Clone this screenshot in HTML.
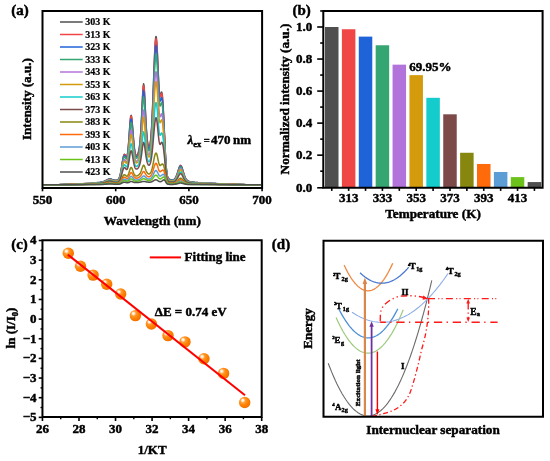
<!DOCTYPE html>
<html><head><meta charset="utf-8"><title>Figure</title>
<style>html,body{margin:0;padding:0;background:#fff;}body{width:550px;height:461px;overflow:hidden;}svg{display:block;filter:blur(0.3px);}text{stroke:#000;stroke-width:0.45px;}</style>
</head><body>
<svg width="550" height="461" viewBox="0 0 550 461"><path d="M43.5,184.8 L46.5,184.8 L49.5,184.8 L52.5,184.8 L55.5,184.7 L58.5,184.7 L61.5,184.6 L64.5,184.5 L67.5,184.4 L70.5,184.3 L73.5,184.2 L76.5,184.1 L79.5,184.0 L82.5,183.8 L85.5,183.6 L88.5,183.4 L91.5,183.2 L94.5,182.9 L97.5,182.6 L100.0,182.4 L101.0,182.2 L102.0,182.0 L103.0,181.7 L104.0,181.4 L105.0,181.0 L106.0,180.5 L107.0,179.9 L108.0,179.4 L109.0,179.0 L110.0,178.9 L111.0,179.1 L112.0,179.5 L113.0,179.8 L114.0,180.1 L115.0,180.3 L116.0,180.3 L117.0,180.2 L118.0,179.7 L118.4,179.3 L118.8,178.7 L119.2,177.9 L119.6,176.9 L120.0,175.6 L120.4,174.0 L120.8,172.0 L121.2,169.8 L121.6,167.3 L122.0,164.6 L122.4,162.0 L122.8,159.6 L123.2,157.5 L123.6,155.8 L124.0,154.8 L124.4,154.3 L124.8,154.4 L125.2,154.9 L125.6,155.6 L126.0,156.3 L126.4,156.6 L126.8,156.3 L127.2,155.2 L127.6,153.2 L128.0,150.0 L128.4,145.7 L128.8,140.6 L129.2,134.8 L129.6,128.9 L130.0,123.3 L130.4,118.7 L130.8,115.9 L131.2,115.3 L131.6,116.8 L132.0,120.2 L132.4,124.8 L132.8,130.0 L133.2,135.3 L133.6,140.3 L134.0,144.6 L134.4,148.2 L134.8,151.1 L135.2,153.1 L135.6,154.5 L136.0,155.3 L136.4,155.6 L136.8,155.5 L137.2,155.1 L137.6,154.4 L138.0,153.5 L138.4,152.2 L138.8,150.6 L139.2,148.4 L139.6,145.6 L140.0,142.0 L140.4,137.3 L140.8,131.6 L141.2,124.7 L141.6,116.9 L142.0,108.3 L142.4,99.6 L142.8,91.8 L143.2,86.1 L143.6,83.8 L144.0,85.5 L144.4,90.7 L144.8,98.1 L145.2,106.6 L145.6,115.0 L146.0,122.7 L146.4,129.4 L146.8,134.9 L147.2,139.3 L147.6,142.6 L148.0,145.0 L148.4,146.4 L148.8,147.1 L149.2,147.1 L149.6,146.3 L150.0,144.6 L150.4,142.1 L150.8,138.5 L151.2,133.7 L151.6,127.7 L152.0,120.4 L152.4,111.8 L152.8,102.1 L153.2,91.6 L153.6,80.6 L154.0,69.6 L154.4,59.3 L154.8,50.1 L155.2,42.9 L155.6,38.2 L156.0,36.5 L156.4,37.8 L156.8,42.2 L157.2,49.0 L157.6,57.6 L158.0,66.9 L158.4,76.1 L158.8,84.2 L159.2,90.4 L159.6,94.3 L160.0,95.9 L160.4,95.5 L160.8,94.1 L161.2,92.6 L161.6,92.0 L162.0,93.0 L162.4,96.1 L162.8,101.0 L163.2,107.6 L163.6,115.3 L164.0,123.7 L164.4,132.6 L164.8,141.5 L165.2,149.9 L165.6,157.6 L166.0,164.0 L166.4,169.1 L166.8,172.8 L167.2,175.4 L167.6,177.0 L168.0,178.0 L168.4,178.6 L168.8,179.0 L169.2,179.2 L169.6,179.4 L170.0,179.6 L170.4,179.7 L170.8,179.8 L171.2,179.9 L171.6,179.9 L172.0,179.9 L172.4,179.9 L172.8,179.9 L173.2,179.8 L173.6,179.6 L174.0,179.4 L174.4,179.1 L174.8,178.7 L175.2,178.2 L175.6,177.5 L176.0,176.8 L176.4,175.9 L176.8,174.9 L177.2,173.8 L177.6,172.6 L178.0,171.3 L178.4,170.0 L178.8,168.7 L179.2,167.5 L179.6,166.5 L180.0,165.8 L180.4,165.4 L180.8,165.4 L181.2,165.9 L181.6,166.6 L182.0,167.7 L182.4,168.9 L182.8,170.3 L183.2,171.7 L183.6,173.0 L184.0,174.3 L184.4,175.5 L184.8,176.5 L185.2,177.5 L185.6,178.3 L186.0,179.0 L186.4,179.6 L186.8,180.0 L187.2,180.4 L187.6,180.8 L188.0,181.0 L188.4,181.2 L188.8,181.4 L189.2,181.5 L189.6,181.7 L190.0,181.8 L190.4,181.8 L190.8,181.9 L191.2,182.0 L191.6,182.0 L192.0,182.1 L195.0,182.4 L198.0,182.6 L201.0,182.7 L204.0,182.8 L207.0,183.0 L210.0,183.2 L213.0,183.4 L216.0,183.6 L219.0,183.7 L222.0,183.9 L225.0,184.0 L228.0,184.1 L231.0,184.2 L234.0,184.3 L237.0,184.4 L240.0,184.5 L243.0,184.6 L246.0,184.7 L249.0,184.7 L252.0,184.8 L255.0,184.8 L258.0,184.8 L261.0,184.8 L261.0,184.8" fill="none" stroke="#4f4f4f" stroke-width="1.5" stroke-linejoin="round"/>
<path d="M43.5,184.8 L46.5,184.8 L49.5,184.8 L52.5,184.8 L55.5,184.7 L58.5,184.7 L61.5,184.6 L64.5,184.5 L67.5,184.4 L70.5,184.3 L73.5,184.2 L76.5,184.1 L79.5,184.0 L82.5,183.8 L85.5,183.6 L88.5,183.4 L91.5,183.2 L94.5,182.9 L97.5,182.7 L100.0,182.4 L101.0,182.2 L102.0,182.0 L103.0,181.8 L104.0,181.4 L105.0,181.0 L106.0,180.5 L107.0,180.0 L108.0,179.4 L109.0,179.0 L110.0,178.9 L111.0,179.1 L112.0,179.5 L113.0,179.9 L114.0,180.2 L115.0,180.4 L116.0,180.4 L117.0,180.2 L118.0,179.7 L118.4,179.3 L118.8,178.8 L119.2,178.0 L119.6,177.0 L120.0,175.7 L120.4,174.1 L120.8,172.2 L121.2,169.9 L121.6,167.4 L122.0,164.8 L122.4,162.2 L122.8,159.8 L123.2,157.7 L123.6,156.1 L124.0,155.1 L124.4,154.6 L124.8,154.7 L125.2,155.2 L125.6,155.9 L126.0,156.6 L126.4,156.9 L126.8,156.7 L127.2,155.6 L127.6,153.5 L128.0,150.4 L128.4,146.2 L128.8,141.1 L129.2,135.4 L129.6,129.6 L130.0,124.1 L130.4,119.6 L130.8,116.8 L131.2,116.1 L131.6,117.7 L132.0,121.0 L132.4,125.6 L132.8,130.7 L133.2,135.9 L133.6,140.8 L134.0,145.1 L134.4,148.7 L134.8,151.5 L135.2,153.5 L135.6,154.8 L136.0,155.6 L136.4,155.9 L136.8,155.8 L137.2,155.4 L137.6,154.8 L138.0,153.8 L138.4,152.6 L138.8,151.0 L139.2,148.8 L139.6,146.1 L140.0,142.5 L140.4,138.0 L140.8,132.3 L141.2,125.6 L141.6,117.9 L142.0,109.4 L142.4,100.9 L142.8,93.2 L143.2,87.7 L143.6,85.4 L144.0,87.1 L144.4,92.2 L144.8,99.5 L145.2,107.7 L145.6,116.0 L146.0,123.6 L146.4,130.2 L146.8,135.6 L147.2,139.9 L147.6,143.2 L148.0,145.4 L148.4,146.9 L148.8,147.6 L149.2,147.5 L149.6,146.7 L150.0,145.1 L150.4,142.6 L150.8,139.0 L151.2,134.3 L151.6,128.4 L152.0,121.2 L152.4,112.8 L152.8,103.2 L153.2,92.9 L153.6,82.1 L154.0,71.3 L154.4,61.0 L154.8,52.0 L155.2,44.9 L155.6,40.3 L156.0,38.6 L156.4,39.9 L156.8,44.2 L157.2,50.9 L157.6,59.4 L158.0,68.6 L158.4,77.6 L158.8,85.6 L159.2,91.7 L159.6,95.6 L160.0,97.1 L160.4,96.8 L160.8,95.4 L161.2,93.9 L161.6,93.3 L162.0,94.3 L162.4,97.3 L162.8,102.1 L163.2,108.6 L163.6,116.1 L164.0,124.5 L164.4,133.2 L164.8,141.9 L165.2,150.3 L165.6,157.8 L166.0,164.2 L166.4,169.3 L166.8,172.9 L167.2,175.5 L167.6,177.1 L168.0,178.1 L168.4,178.7 L168.8,179.1 L169.2,179.3 L169.6,179.5 L170.0,179.6 L170.4,179.8 L170.8,179.8 L171.2,179.9 L171.6,180.0 L172.0,180.0 L172.4,180.0 L172.8,179.9 L173.2,179.8 L173.6,179.7 L174.0,179.4 L174.4,179.1 L174.8,178.7 L175.2,178.2 L175.6,177.6 L176.0,176.9 L176.4,176.0 L176.8,175.0 L177.2,173.9 L177.6,172.7 L178.0,171.4 L178.4,170.1 L178.8,168.8 L179.2,167.7 L179.6,166.7 L180.0,166.0 L180.4,165.6 L180.8,165.6 L181.2,166.0 L181.6,166.8 L182.0,167.9 L182.4,169.1 L182.8,170.4 L183.2,171.8 L183.6,173.1 L184.0,174.4 L184.4,175.6 L184.8,176.6 L185.2,177.5 L185.6,178.3 L186.0,179.0 L186.4,179.6 L186.8,180.1 L187.2,180.5 L187.6,180.8 L188.0,181.1 L188.4,181.3 L188.8,181.4 L189.2,181.6 L189.6,181.7 L190.0,181.8 L190.4,181.9 L190.8,181.9 L191.2,182.0 L191.6,182.1 L192.0,182.1 L195.0,182.4 L198.0,182.6 L201.0,182.7 L204.0,182.8 L207.0,183.0 L210.0,183.2 L213.0,183.4 L216.0,183.6 L219.0,183.7 L222.0,183.9 L225.0,184.0 L228.0,184.1 L231.0,184.2 L234.0,184.3 L237.0,184.4 L240.0,184.5 L243.0,184.6 L246.0,184.7 L249.0,184.7 L252.0,184.8 L255.0,184.8 L258.0,184.8 L261.0,184.8 L261.0,184.8" fill="none" stroke="#f04646" stroke-width="1.5" stroke-linejoin="round"/>
<path d="M43.5,184.8 L46.5,184.8 L49.5,184.8 L52.5,184.8 L55.5,184.7 L58.5,184.7 L61.5,184.6 L64.5,184.5 L67.5,184.5 L70.5,184.4 L73.5,184.3 L76.5,184.1 L79.5,184.0 L82.5,183.9 L85.5,183.7 L88.5,183.5 L91.5,183.3 L94.5,183.0 L97.5,182.7 L100.0,182.5 L101.0,182.3 L102.0,182.1 L103.0,181.9 L104.0,181.5 L105.0,181.1 L106.0,180.7 L107.0,180.1 L108.0,179.6 L109.0,179.2 L110.0,179.1 L111.0,179.3 L112.0,179.7 L113.0,180.0 L114.0,180.3 L115.0,180.5 L116.0,180.5 L117.0,180.4 L118.0,179.9 L118.4,179.5 L118.8,179.0 L119.2,178.3 L119.6,177.3 L120.0,176.0 L120.4,174.5 L120.8,172.6 L121.2,170.4 L121.6,168.0 L122.0,165.5 L122.4,163.0 L122.8,160.7 L123.2,158.6 L123.6,157.1 L124.0,156.1 L124.4,155.6 L124.8,155.7 L125.2,156.2 L125.6,156.9 L126.0,157.6 L126.4,157.9 L126.8,157.7 L127.2,156.7 L127.6,154.8 L128.0,151.8 L128.4,147.8 L128.8,143.0 L129.2,137.5 L129.6,131.9 L130.0,126.6 L130.4,122.4 L130.8,119.7 L131.2,119.1 L131.6,120.5 L132.0,123.7 L132.4,128.1 L132.8,133.0 L133.2,138.0 L133.6,142.6 L134.0,146.7 L134.4,150.1 L134.8,152.8 L135.2,154.7 L135.6,156.0 L136.0,156.7 L136.4,157.0 L136.8,156.9 L137.2,156.6 L137.6,155.9 L138.0,155.0 L138.4,153.8 L138.8,152.3 L139.2,150.3 L139.6,147.7 L140.0,144.3 L140.4,140.1 L140.8,134.8 L141.2,128.4 L141.6,121.1 L142.0,113.2 L142.4,105.2 L142.8,98.0 L143.2,92.7 L143.6,90.6 L144.0,92.2 L144.4,96.9 L144.8,103.8 L145.2,111.6 L145.6,119.4 L146.0,126.5 L146.4,132.7 L146.8,137.8 L147.2,141.9 L147.6,144.9 L148.0,147.1 L148.4,148.4 L148.8,149.0 L149.2,149.0 L149.6,148.2 L150.0,146.7 L150.4,144.3 L150.8,140.9 L151.2,136.5 L151.6,130.8 L152.0,124.0 L152.4,116.0 L152.8,106.9 L153.2,97.1 L153.6,86.8 L154.0,76.5 L154.4,66.8 L154.8,58.3 L155.2,51.5 L155.6,47.1 L156.0,45.5 L156.4,46.8 L156.8,50.9 L157.2,57.3 L157.6,65.3 L158.0,74.1 L158.4,82.7 L158.8,90.3 L159.2,96.1 L159.6,99.8 L160.0,101.3 L160.4,100.9 L160.8,99.6 L161.2,98.1 L161.6,97.5 L162.0,98.5 L162.4,101.2 L162.8,105.8 L163.2,111.8 L163.6,119.0 L164.0,126.8 L164.4,135.1 L164.8,143.5 L165.2,151.5 L165.6,158.7 L166.0,164.9 L166.4,169.8 L166.8,173.4 L167.2,175.8 L167.6,177.4 L168.0,178.3 L168.4,178.9 L168.8,179.3 L169.2,179.5 L169.6,179.7 L170.0,179.8 L170.4,179.9 L170.8,180.0 L171.2,180.1 L171.6,180.1 L172.0,180.2 L172.4,180.1 L172.8,180.1 L173.2,180.0 L173.6,179.8 L174.0,179.6 L174.4,179.3 L174.8,178.9 L175.2,178.5 L175.6,177.9 L176.0,177.1 L176.4,176.3 L176.8,175.3 L177.2,174.3 L177.6,173.1 L178.0,171.9 L178.4,170.6 L178.8,169.4 L179.2,168.2 L179.6,167.3 L180.0,166.6 L180.4,166.2 L180.8,166.3 L181.2,166.7 L181.6,167.4 L182.0,168.4 L182.4,169.6 L182.8,170.9 L183.2,172.2 L183.6,173.5 L184.0,174.7 L184.4,175.9 L184.8,176.9 L185.2,177.8 L185.6,178.6 L186.0,179.2 L186.4,179.8 L186.8,180.2 L187.2,180.6 L187.6,180.9 L188.0,181.2 L188.4,181.4 L188.8,181.5 L189.2,181.7 L189.6,181.8 L190.0,181.9 L190.4,182.0 L190.8,182.0 L191.2,182.1 L191.6,182.2 L192.0,182.2 L195.0,182.5 L198.0,182.7 L201.0,182.8 L204.0,182.9 L207.0,183.1 L210.0,183.3 L213.0,183.5 L216.0,183.6 L219.0,183.8 L222.0,183.9 L225.0,184.0 L228.0,184.2 L231.0,184.3 L234.0,184.4 L237.0,184.5 L240.0,184.5 L243.0,184.6 L246.0,184.7 L249.0,184.7 L252.0,184.8 L255.0,184.8 L258.0,184.8 L261.0,184.8 L261.0,184.8" fill="none" stroke="#1f63d8" stroke-width="1.5" stroke-linejoin="round"/>
<path d="M43.5,184.8 L46.5,184.8 L49.5,184.8 L52.5,184.8 L55.5,184.7 L58.5,184.7 L61.5,184.6 L64.5,184.5 L67.5,184.5 L70.5,184.4 L73.5,184.3 L76.5,184.2 L79.5,184.0 L82.5,183.9 L85.5,183.7 L88.5,183.5 L91.5,183.3 L94.5,183.1 L97.5,182.8 L100.0,182.5 L101.0,182.4 L102.0,182.2 L103.0,182.0 L104.0,181.7 L105.0,181.3 L106.0,180.8 L107.0,180.3 L108.0,179.8 L109.0,179.4 L110.0,179.3 L111.0,179.5 L112.0,179.8 L113.0,180.2 L114.0,180.5 L115.0,180.7 L116.0,180.7 L117.0,180.6 L118.0,180.1 L118.4,179.7 L118.8,179.2 L119.2,178.5 L119.6,177.6 L120.0,176.4 L120.4,174.9 L120.8,173.1 L121.2,171.0 L121.6,168.7 L122.0,166.3 L122.4,163.9 L122.8,161.7 L123.2,159.7 L123.6,158.3 L124.0,157.3 L124.4,156.9 L124.8,157.0 L125.2,157.5 L125.6,158.1 L126.0,158.8 L126.4,159.1 L126.8,159.0 L127.2,158.0 L127.6,156.2 L128.0,153.4 L128.4,149.7 L128.8,145.1 L129.2,140.0 L129.6,134.7 L130.0,129.7 L130.4,125.6 L130.8,123.1 L131.2,122.5 L131.6,123.9 L132.0,126.9 L132.4,131.0 L132.8,135.6 L133.2,140.3 L133.6,144.7 L134.0,148.6 L134.4,151.8 L134.8,154.3 L135.2,156.1 L135.6,157.3 L136.0,158.0 L136.4,158.3 L136.8,158.2 L137.2,157.9 L137.6,157.3 L138.0,156.4 L138.4,155.3 L138.8,153.9 L139.2,152.0 L139.6,149.6 L140.0,146.5 L140.4,142.5 L140.8,137.6 L141.2,131.7 L141.6,125.0 L142.0,117.6 L142.4,110.2 L142.8,103.5 L143.2,98.6 L143.6,96.7 L144.0,98.1 L144.4,102.5 L144.8,108.9 L145.2,116.1 L145.6,123.3 L146.0,129.9 L146.4,135.6 L146.8,140.4 L147.2,144.1 L147.6,147.0 L148.0,148.9 L148.4,150.2 L148.8,150.8 L149.2,150.7 L149.6,150.0 L150.0,148.6 L150.4,146.3 L150.8,143.2 L151.2,139.0 L151.6,133.7 L152.0,127.3 L152.4,119.7 L152.8,111.2 L153.2,102.0 L153.6,92.3 L154.0,82.7 L154.4,73.6 L154.8,65.6 L155.2,59.2 L155.6,55.1 L156.0,53.6 L156.4,54.8 L156.8,58.7 L157.2,64.7 L157.6,72.2 L158.0,80.5 L158.4,88.6 L158.8,95.7 L159.2,101.2 L159.6,104.7 L160.0,106.1 L160.4,105.8 L160.8,104.5 L161.2,103.1 L161.6,102.5 L162.0,103.4 L162.4,105.9 L162.8,110.1 L163.2,115.7 L163.6,122.3 L164.0,129.6 L164.4,137.4 L164.8,145.3 L165.2,152.9 L165.6,159.8 L166.0,165.7 L166.4,170.4 L166.8,173.8 L167.2,176.2 L167.6,177.7 L168.0,178.6 L168.4,179.2 L168.8,179.5 L169.2,179.8 L169.6,179.9 L170.0,180.1 L170.4,180.2 L170.8,180.2 L171.2,180.3 L171.6,180.3 L172.0,180.4 L172.4,180.3 L172.8,180.3 L173.2,180.2 L173.6,180.1 L174.0,179.8 L174.4,179.6 L174.8,179.2 L175.2,178.7 L175.6,178.2 L176.0,177.5 L176.4,176.7 L176.8,175.7 L177.2,174.7 L177.6,173.6 L178.0,172.4 L178.4,171.2 L178.8,170.0 L179.2,168.9 L179.6,168.0 L180.0,167.3 L180.4,167.0 L180.8,167.0 L181.2,167.4 L181.6,168.1 L182.0,169.1 L182.4,170.2 L182.8,171.5 L183.2,172.7 L183.6,174.0 L184.0,175.1 L184.4,176.2 L184.8,177.2 L185.2,178.1 L185.6,178.8 L186.0,179.5 L186.4,180.0 L186.8,180.4 L187.2,180.8 L187.6,181.1 L188.0,181.3 L188.4,181.5 L188.8,181.7 L189.2,181.8 L189.6,181.9 L190.0,182.0 L190.4,182.1 L190.8,182.2 L191.2,182.2 L191.6,182.3 L192.0,182.3 L195.0,182.6 L198.0,182.8 L201.0,182.9 L204.0,183.0 L207.0,183.2 L210.0,183.3 L213.0,183.5 L216.0,183.7 L219.0,183.8 L222.0,183.9 L225.0,184.1 L228.0,184.2 L231.0,184.3 L234.0,184.4 L237.0,184.5 L240.0,184.5 L243.0,184.6 L246.0,184.7 L249.0,184.7 L252.0,184.8 L255.0,184.8 L258.0,184.8 L261.0,184.8 L261.0,184.8" fill="none" stroke="#35a572" stroke-width="1.5" stroke-linejoin="round"/>
<path d="M43.5,184.8 L46.5,184.8 L49.5,184.8 L52.5,184.8 L55.5,184.7 L58.5,184.7 L61.5,184.6 L64.5,184.6 L67.5,184.5 L70.5,184.4 L73.5,184.3 L76.5,184.2 L79.5,184.1 L82.5,184.0 L85.5,183.8 L88.5,183.7 L91.5,183.5 L94.5,183.2 L97.5,183.0 L100.0,182.8 L101.0,182.6 L102.0,182.4 L103.0,182.2 L104.0,181.9 L105.0,181.6 L106.0,181.2 L107.0,180.7 L108.0,180.2 L109.0,179.8 L110.0,179.8 L111.0,179.9 L112.0,180.3 L113.0,180.6 L114.0,180.9 L115.0,181.1 L116.0,181.1 L117.0,181.0 L118.0,180.6 L118.4,180.3 L118.8,179.8 L119.2,179.2 L119.6,178.3 L120.0,177.3 L120.4,175.9 L120.8,174.3 L121.2,172.4 L121.6,170.4 L122.0,168.2 L122.4,166.0 L122.8,164.0 L123.2,162.3 L123.6,160.9 L124.0,160.1 L124.4,159.7 L124.8,159.8 L125.2,160.3 L125.6,160.9 L126.0,161.5 L126.4,161.9 L126.8,161.8 L127.2,161.1 L127.6,159.5 L128.0,157.1 L128.4,153.9 L128.8,149.9 L129.2,145.5 L129.6,140.9 L130.0,136.6 L130.4,133.1 L130.8,130.9 L131.2,130.3 L131.6,131.5 L132.0,134.1 L132.4,137.7 L132.8,141.7 L133.2,145.7 L133.6,149.5 L134.0,152.9 L134.4,155.6 L134.8,157.8 L135.2,159.4 L135.6,160.4 L136.0,161.0 L136.4,161.2 L136.8,161.2 L137.2,160.9 L137.6,160.3 L138.0,159.6 L138.4,158.7 L138.8,157.5 L139.2,155.9 L139.6,153.9 L140.0,151.3 L140.4,148.0 L140.8,143.9 L141.2,139.0 L141.6,133.4 L142.0,127.3 L142.4,121.2 L142.8,115.6 L143.2,111.6 L143.6,110.0 L144.0,111.2 L144.4,114.8 L144.8,120.1 L145.2,126.0 L145.6,132.0 L146.0,137.4 L146.4,142.2 L146.8,146.1 L147.2,149.2 L147.6,151.6 L148.0,153.2 L148.4,154.3 L148.8,154.7 L149.2,154.7 L149.6,154.1 L150.0,152.8 L150.4,150.9 L150.8,148.2 L151.2,144.6 L151.6,140.1 L152.0,134.6 L152.4,128.2 L152.8,120.9 L153.2,113.0 L153.6,104.8 L154.0,96.5 L154.4,88.7 L154.8,81.9 L155.2,76.5 L155.6,72.9 L156.0,71.7 L156.4,72.8 L156.8,76.1 L157.2,81.3 L157.6,87.8 L158.0,94.9 L158.4,101.8 L158.8,108.0 L159.2,112.7 L159.6,115.7 L160.0,116.9 L160.4,116.7 L160.8,115.5 L161.2,114.3 L161.6,113.8 L162.0,114.3 L162.4,116.3 L162.8,119.7 L163.2,124.3 L163.6,129.8 L164.0,135.9 L164.4,142.6 L164.8,149.4 L165.2,156.1 L165.6,162.3 L166.0,167.6 L166.4,171.8 L166.8,174.9 L167.2,177.1 L167.6,178.4 L168.0,179.3 L168.4,179.8 L168.8,180.1 L169.2,180.3 L169.6,180.5 L170.0,180.6 L170.4,180.7 L170.8,180.7 L171.2,180.8 L171.6,180.8 L172.0,180.8 L172.4,180.8 L172.8,180.8 L173.2,180.7 L173.6,180.5 L174.0,180.4 L174.4,180.1 L174.8,179.8 L175.2,179.3 L175.6,178.8 L176.0,178.2 L176.4,177.5 L176.8,176.7 L177.2,175.7 L177.6,174.7 L178.0,173.6 L178.4,172.5 L178.8,171.5 L179.2,170.5 L179.6,169.7 L180.0,169.1 L180.4,168.8 L180.8,168.8 L181.2,169.1 L181.6,169.8 L182.0,170.6 L182.4,171.7 L182.8,172.8 L183.2,173.9 L183.6,175.0 L184.0,176.1 L184.4,177.1 L184.8,178.0 L185.2,178.7 L185.6,179.4 L186.0,180.0 L186.4,180.5 L186.8,180.9 L187.2,181.2 L187.6,181.5 L188.0,181.7 L188.4,181.9 L188.8,182.0 L189.2,182.1 L189.6,182.2 L190.0,182.3 L190.4,182.4 L190.8,182.4 L191.2,182.5 L191.6,182.5 L192.0,182.6 L195.0,182.8 L198.0,183.0 L201.0,183.1 L204.0,183.2 L207.0,183.3 L210.0,183.5 L213.0,183.6 L216.0,183.8 L219.0,183.9 L222.0,184.0 L225.0,184.1 L228.0,184.2 L231.0,184.3 L234.0,184.4 L237.0,184.5 L240.0,184.6 L243.0,184.6 L246.0,184.7 L249.0,184.7 L252.0,184.8 L255.0,184.8 L258.0,184.8 L261.0,184.8 L261.0,184.8" fill="none" stroke="#b274db" stroke-width="1.5" stroke-linejoin="round"/>
<path d="M43.5,184.8 L46.5,184.8 L49.5,184.8 L52.5,184.8 L55.5,184.7 L58.5,184.7 L61.5,184.6 L64.5,184.6 L67.5,184.5 L70.5,184.4 L73.5,184.3 L76.5,184.3 L79.5,184.1 L82.5,184.0 L85.5,183.9 L88.5,183.7 L91.5,183.5 L94.5,183.3 L97.5,183.1 L100.0,182.9 L101.0,182.7 L102.0,182.6 L103.0,182.4 L104.0,182.1 L105.0,181.8 L106.0,181.4 L107.0,180.9 L108.0,180.4 L109.0,180.1 L110.0,180.0 L111.0,180.2 L112.0,180.5 L113.0,180.8 L114.0,181.1 L115.0,181.3 L116.0,181.3 L117.0,181.2 L118.0,180.8 L118.4,180.5 L118.8,180.1 L119.2,179.5 L119.6,178.7 L120.0,177.7 L120.4,176.5 L120.8,174.9 L121.2,173.2 L121.6,171.3 L122.0,169.2 L122.4,167.2 L122.8,165.3 L123.2,163.7 L123.6,162.4 L124.0,161.6 L124.4,161.3 L124.8,161.4 L125.2,161.8 L125.6,162.4 L126.0,163.0 L126.4,163.4 L126.8,163.4 L127.2,162.7 L127.6,161.3 L128.0,159.2 L128.4,156.2 L128.8,152.6 L129.2,148.5 L129.6,144.3 L130.0,140.3 L130.4,137.1 L130.8,135.1 L131.2,134.6 L131.6,135.7 L132.0,138.0 L132.4,141.3 L132.8,145.0 L133.2,148.7 L133.6,152.2 L134.0,155.2 L134.4,157.7 L134.8,159.7 L135.2,161.2 L135.6,162.1 L136.0,162.6 L136.4,162.9 L136.8,162.8 L137.2,162.5 L137.6,162.0 L138.0,161.4 L138.4,160.5 L138.8,159.4 L139.2,158.0 L139.6,156.2 L140.0,153.9 L140.4,150.9 L140.8,147.3 L141.2,142.9 L141.6,137.9 L142.0,132.5 L142.4,127.0 L142.8,122.1 L143.2,118.5 L143.6,117.0 L144.0,118.1 L144.4,121.3 L144.8,126.0 L145.2,131.3 L145.6,136.6 L146.0,141.5 L146.4,145.7 L146.8,149.2 L147.2,152.0 L147.6,154.1 L148.0,155.5 L148.4,156.5 L148.8,156.9 L149.2,156.9 L149.6,156.3 L150.0,155.2 L150.4,153.4 L150.8,151.0 L151.2,147.7 L151.6,143.6 L152.0,138.6 L152.4,132.8 L152.8,126.2 L153.2,119.0 L153.6,111.5 L154.0,104.0 L154.4,96.9 L154.8,90.7 L155.2,85.8 L155.6,82.6 L156.0,81.4 L156.4,82.4 L156.8,85.5 L157.2,90.2 L157.6,96.1 L158.0,102.6 L158.4,109.0 L158.8,114.6 L159.2,118.9 L159.6,121.6 L160.0,122.7 L160.4,122.5 L160.8,121.5 L161.2,120.4 L161.6,119.8 L162.0,120.3 L162.4,122.0 L162.8,125.0 L163.2,129.0 L163.6,133.9 L164.0,139.4 L164.4,145.4 L164.8,151.7 L165.2,157.9 L165.6,163.7 L166.0,168.6 L166.4,172.6 L166.8,175.5 L167.2,177.5 L167.6,178.8 L168.0,179.6 L168.4,180.1 L168.8,180.4 L169.2,180.6 L169.6,180.7 L170.0,180.9 L170.4,180.9 L170.8,181.0 L171.2,181.1 L171.6,181.1 L172.0,181.1 L172.4,181.1 L172.8,181.0 L173.2,181.0 L173.6,180.8 L174.0,180.6 L174.4,180.4 L174.8,180.1 L175.2,179.7 L175.6,179.2 L176.0,178.6 L176.4,177.9 L176.8,177.2 L177.2,176.3 L177.6,175.3 L178.0,174.3 L178.4,173.3 L178.8,172.3 L179.2,171.4 L179.6,170.6 L180.0,170.0 L180.4,169.7 L180.8,169.8 L181.2,170.1 L181.6,170.7 L182.0,171.5 L182.4,172.5 L182.8,173.5 L183.2,174.6 L183.6,175.6 L184.0,176.6 L184.4,177.6 L184.8,178.4 L185.2,179.1 L185.6,179.7 L186.0,180.3 L186.4,180.7 L186.8,181.1 L187.2,181.4 L187.6,181.7 L188.0,181.9 L188.4,182.0 L188.8,182.2 L189.2,182.3 L189.6,182.4 L190.0,182.4 L190.4,182.5 L190.8,182.6 L191.2,182.6 L191.6,182.7 L192.0,182.7 L195.0,182.9 L198.0,183.1 L201.0,183.2 L204.0,183.3 L207.0,183.4 L210.0,183.6 L213.0,183.7 L216.0,183.8 L219.0,184.0 L222.0,184.1 L225.0,184.2 L228.0,184.3 L231.0,184.4 L234.0,184.4 L237.0,184.5 L240.0,184.6 L243.0,184.6 L246.0,184.7 L249.0,184.7 L252.0,184.8 L255.0,184.8 L258.0,184.8 L261.0,184.8 L261.0,184.8" fill="none" stroke="#d49b0c" stroke-width="1.5" stroke-linejoin="round"/>
<path d="M43.5,184.8 L46.5,184.8 L49.5,184.8 L52.5,184.8 L55.5,184.7 L58.5,184.7 L61.5,184.7 L64.5,184.6 L67.5,184.5 L70.5,184.5 L73.5,184.4 L76.5,184.3 L79.5,184.2 L82.5,184.1 L85.5,184.0 L88.5,183.9 L91.5,183.7 L94.5,183.5 L97.5,183.3 L100.0,183.1 L101.0,183.0 L102.0,182.9 L103.0,182.7 L104.0,182.5 L105.0,182.2 L106.0,181.8 L107.0,181.4 L108.0,181.0 L109.0,180.7 L110.0,180.6 L111.0,180.8 L112.0,181.1 L113.0,181.4 L114.0,181.6 L115.0,181.8 L116.0,181.8 L117.0,181.8 L118.0,181.4 L118.4,181.2 L118.8,180.8 L119.2,180.3 L119.6,179.7 L120.0,178.8 L120.4,177.7 L120.8,176.4 L121.2,174.9 L121.6,173.3 L122.0,171.6 L122.4,169.8 L122.8,168.2 L123.2,166.8 L123.6,165.8 L124.0,165.1 L124.4,164.8 L124.8,164.9 L125.2,165.3 L125.6,165.9 L126.0,166.4 L126.4,166.8 L126.8,166.9 L127.2,166.4 L127.6,165.4 L128.0,163.6 L128.4,161.3 L128.8,158.4 L129.2,155.1 L129.6,151.7 L130.0,148.5 L130.4,145.9 L130.8,144.3 L131.2,143.9 L131.6,144.7 L132.0,146.6 L132.4,149.2 L132.8,152.2 L133.2,155.1 L133.6,157.9 L134.0,160.4 L134.4,162.4 L134.8,164.0 L135.2,165.1 L135.6,165.9 L136.0,166.3 L136.4,166.4 L136.8,166.4 L137.2,166.1 L137.6,165.8 L138.0,165.2 L138.4,164.6 L138.8,163.7 L139.2,162.6 L139.6,161.3 L140.0,159.5 L140.4,157.3 L140.8,154.5 L141.2,151.2 L141.6,147.5 L142.0,143.4 L142.4,139.3 L142.8,135.6 L143.2,132.9 L143.6,131.8 L144.0,132.6 L144.4,135.0 L144.8,138.5 L145.2,142.5 L145.6,146.4 L146.0,150.1 L146.4,153.2 L146.8,155.9 L147.2,158.0 L147.6,159.5 L148.0,160.6 L148.4,161.3 L148.8,161.7 L149.2,161.6 L149.6,161.2 L150.0,160.3 L150.4,158.9 L150.8,157.0 L151.2,154.5 L151.6,151.2 L152.0,147.3 L152.4,142.7 L152.8,137.6 L153.2,131.9 L153.6,126.0 L154.0,120.1 L154.4,114.6 L154.8,109.7 L155.2,105.8 L155.6,103.4 L156.0,102.5 L156.4,103.3 L156.8,105.7 L157.2,109.5 L157.6,114.2 L158.0,119.3 L158.4,124.4 L158.8,128.8 L159.2,132.2 L159.6,134.4 L160.0,135.3 L160.4,135.1 L160.8,134.3 L161.2,133.4 L161.6,132.9 L162.0,133.1 L162.4,134.2 L162.8,136.3 L163.2,139.2 L163.6,142.8 L164.0,147.0 L164.4,151.7 L164.8,156.8 L165.2,161.9 L165.6,166.7 L166.0,170.9 L166.4,174.3 L166.8,176.9 L167.2,178.6 L167.6,179.8 L168.0,180.5 L168.4,180.9 L168.8,181.1 L169.2,181.3 L169.6,181.4 L170.0,181.5 L170.4,181.6 L170.8,181.6 L171.2,181.6 L171.6,181.7 L172.0,181.7 L172.4,181.7 L172.8,181.6 L173.2,181.6 L173.6,181.4 L174.0,181.3 L174.4,181.1 L174.8,180.8 L175.2,180.5 L175.6,180.1 L176.0,179.6 L176.4,179.0 L176.8,178.3 L177.2,177.6 L177.6,176.7 L178.0,175.9 L178.4,175.0 L178.8,174.1 L179.2,173.4 L179.6,172.7 L180.0,172.2 L180.4,172.0 L180.8,172.0 L181.2,172.3 L181.6,172.8 L182.0,173.5 L182.4,174.3 L182.8,175.2 L183.2,176.1 L183.6,177.0 L184.0,177.8 L184.4,178.6 L184.8,179.3 L185.2,180.0 L185.6,180.5 L186.0,181.0 L186.4,181.3 L186.8,181.7 L187.2,181.9 L187.6,182.1 L188.0,182.3 L188.4,182.4 L188.8,182.6 L189.2,182.7 L189.6,182.7 L190.0,182.8 L190.4,182.8 L190.8,182.9 L191.2,182.9 L191.6,183.0 L192.0,183.0 L195.0,183.2 L198.0,183.3 L201.0,183.4 L204.0,183.5 L207.0,183.6 L210.0,183.7 L213.0,183.9 L216.0,184.0 L219.0,184.1 L222.0,184.2 L225.0,184.3 L228.0,184.3 L231.0,184.4 L234.0,184.5 L237.0,184.5 L240.0,184.6 L243.0,184.7 L246.0,184.7 L249.0,184.7 L252.0,184.8 L255.0,184.8 L258.0,184.8 L261.0,184.8 L261.0,184.8" fill="none" stroke="#14cccc" stroke-width="1.5" stroke-linejoin="round"/>
<path d="M43.5,184.8 L46.5,184.8 L49.5,184.8 L52.5,184.8 L55.5,184.7 L58.5,184.7 L61.5,184.7 L64.5,184.6 L67.5,184.6 L70.5,184.5 L73.5,184.5 L76.5,184.4 L79.5,184.3 L82.5,184.2 L85.5,184.1 L88.5,184.0 L91.5,183.9 L94.5,183.7 L97.5,183.5 L100.0,183.3 L101.0,183.2 L102.0,183.1 L103.0,182.9 L104.0,182.7 L105.0,182.5 L106.0,182.1 L107.0,181.8 L108.0,181.4 L109.0,181.1 L110.0,181.1 L111.0,181.2 L112.0,181.5 L113.0,181.8 L114.0,182.0 L115.0,182.2 L116.0,182.2 L117.0,182.2 L118.0,181.9 L118.4,181.7 L118.8,181.4 L119.2,180.9 L119.6,180.4 L120.0,179.6 L120.4,178.7 L120.8,177.6 L121.2,176.3 L121.6,174.9 L122.0,173.4 L122.4,171.9 L122.8,170.5 L123.2,169.3 L123.6,168.4 L124.0,167.8 L124.4,167.6 L124.8,167.7 L125.2,168.0 L125.6,168.5 L126.0,169.1 L126.4,169.4 L126.8,169.5 L127.2,169.2 L127.6,168.4 L128.0,167.0 L128.4,165.1 L128.8,162.7 L129.2,160.1 L129.6,157.3 L130.0,154.6 L130.4,152.5 L130.8,151.1 L131.2,150.8 L131.6,151.5 L132.0,153.0 L132.4,155.1 L132.8,157.5 L133.2,160.0 L133.6,162.2 L134.0,164.2 L134.4,165.9 L134.8,167.2 L135.2,168.1 L135.6,168.7 L136.0,169.0 L136.4,169.1 L136.8,169.1 L137.2,168.9 L137.6,168.6 L138.0,168.2 L138.4,167.6 L138.8,166.9 L139.2,166.1 L139.6,165.0 L140.0,163.6 L140.4,161.9 L140.8,159.7 L141.2,157.2 L141.6,154.3 L142.0,151.2 L142.4,148.0 L142.8,145.2 L143.2,143.1 L143.6,142.3 L144.0,142.9 L144.4,144.7 L144.8,147.4 L145.2,150.4 L145.6,153.5 L146.0,156.3 L146.4,158.7 L146.8,160.7 L147.2,162.3 L147.6,163.5 L148.0,164.4 L148.4,165.0 L148.8,165.2 L149.2,165.2 L149.6,164.8 L150.0,164.1 L150.4,163.0 L150.8,161.5 L151.2,159.4 L151.6,156.9 L152.0,153.7 L152.4,150.0 L152.8,145.9 L153.2,141.3 L153.6,136.6 L154.0,131.9 L154.4,127.4 L154.8,123.5 L155.2,120.4 L155.6,118.4 L156.0,117.7 L156.4,118.4 L156.8,120.4 L157.2,123.4 L157.6,127.3 L158.0,131.4 L158.4,135.5 L158.8,139.1 L159.2,141.9 L159.6,143.7 L160.0,144.4 L160.4,144.3 L160.8,143.6 L161.2,142.8 L161.6,142.3 L162.0,142.4 L162.4,143.1 L162.8,144.6 L163.2,146.7 L163.6,149.4 L164.0,152.6 L164.4,156.4 L164.8,160.6 L165.2,164.9 L165.6,169.1 L166.0,172.7 L166.4,175.7 L166.8,177.9 L167.2,179.5 L167.6,180.5 L168.0,181.1 L168.4,181.4 L168.8,181.6 L169.2,181.8 L169.6,181.9 L170.0,182.0 L170.4,182.0 L170.8,182.1 L171.2,182.1 L171.6,182.1 L172.0,182.1 L172.4,182.1 L172.8,182.1 L173.2,182.0 L173.6,181.9 L174.0,181.8 L174.4,181.6 L174.8,181.4 L175.2,181.1 L175.6,180.7 L176.0,180.3 L176.4,179.8 L176.8,179.2 L177.2,178.5 L177.6,177.8 L178.0,177.1 L178.4,176.3 L178.8,175.6 L179.2,174.9 L179.6,174.3 L180.0,173.9 L180.4,173.7 L180.8,173.7 L181.2,173.9 L181.6,174.4 L182.0,175.0 L182.4,175.7 L182.8,176.5 L183.2,177.3 L183.6,178.0 L184.0,178.8 L184.4,179.5 L184.8,180.1 L185.2,180.6 L185.6,181.1 L186.0,181.5 L186.4,181.8 L186.8,182.1 L187.2,182.3 L187.6,182.5 L188.0,182.6 L188.4,182.8 L188.8,182.9 L189.2,182.9 L189.6,183.0 L190.0,183.1 L190.4,183.1 L190.8,183.2 L191.2,183.2 L191.6,183.2 L192.0,183.3 L195.0,183.4 L198.0,183.5 L201.0,183.6 L204.0,183.7 L207.0,183.8 L210.0,183.9 L213.0,184.0 L216.0,184.1 L219.0,184.2 L222.0,184.3 L225.0,184.3 L228.0,184.4 L231.0,184.5 L234.0,184.5 L237.0,184.6 L240.0,184.6 L243.0,184.7 L246.0,184.7 L249.0,184.7 L252.0,184.8 L255.0,184.8 L258.0,184.8 L261.0,184.8 L261.0,184.8" fill="none" stroke="#7d4a4a" stroke-width="1.5" stroke-linejoin="round"/>
<path d="M43.5,184.8 L46.5,184.8 L49.5,184.8 L52.5,184.8 L55.5,184.7 L58.5,184.7 L61.5,184.7 L64.5,184.7 L67.5,184.6 L70.5,184.6 L73.5,184.6 L76.5,184.5 L79.5,184.5 L82.5,184.4 L85.5,184.4 L88.5,184.3 L91.5,184.2 L94.5,184.1 L97.5,184.0 L100.0,183.9 L101.0,183.8 L102.0,183.7 L103.0,183.6 L104.0,183.5 L105.0,183.3 L106.0,183.1 L107.0,182.8 L108.0,182.6 L109.0,182.4 L110.0,182.4 L111.0,182.5 L112.0,182.7 L113.0,182.9 L114.0,183.0 L115.0,183.2 L116.0,183.2 L117.0,183.2 L118.0,183.1 L118.4,182.9 L118.8,182.8 L119.2,182.5 L119.6,182.2 L120.0,181.8 L120.4,181.2 L120.8,180.6 L121.2,179.8 L121.6,179.0 L122.0,178.1 L122.4,177.2 L122.8,176.4 L123.2,175.7 L123.6,175.2 L124.0,174.9 L124.4,174.7 L124.8,174.8 L125.2,175.1 L125.6,175.4 L126.0,175.8 L126.4,176.1 L126.8,176.2 L127.2,176.2 L127.6,175.9 L128.0,175.3 L128.4,174.4 L128.8,173.3 L129.2,172.0 L129.6,170.6 L130.0,169.4 L130.4,168.3 L130.8,167.6 L131.2,167.4 L131.6,167.7 L132.0,168.4 L132.4,169.4 L132.8,170.6 L133.2,171.7 L133.6,172.8 L134.0,173.8 L134.4,174.5 L134.8,175.1 L135.2,175.5 L135.6,175.8 L136.0,176.0 L136.4,176.0 L136.8,175.9 L137.2,175.8 L137.6,175.7 L138.0,175.5 L138.4,175.2 L138.8,174.9 L139.2,174.5 L139.6,174.1 L140.0,173.5 L140.4,172.8 L140.8,172.0 L141.2,171.0 L141.6,169.8 L142.0,168.6 L142.4,167.4 L142.8,166.3 L143.2,165.5 L143.6,165.2 L144.0,165.4 L144.4,166.1 L144.8,167.1 L145.2,168.3 L145.6,169.4 L146.0,170.5 L146.4,171.4 L146.8,172.2 L147.2,172.8 L147.6,173.3 L148.0,173.7 L148.4,173.9 L148.8,174.0 L149.2,174.0 L149.6,173.8 L150.0,173.5 L150.4,173.1 L150.8,172.4 L151.2,171.5 L151.6,170.3 L152.0,169.0 L152.4,167.3 L152.8,165.5 L153.2,163.4 L153.6,161.3 L154.0,159.2 L154.4,157.2 L154.8,155.5 L155.2,154.1 L155.6,153.3 L156.0,153.0 L156.4,153.4 L156.8,154.3 L157.2,155.7 L157.6,157.5 L158.0,159.5 L158.4,161.4 L158.8,163.0 L159.2,164.4 L159.6,165.2 L160.0,165.6 L160.4,165.5 L160.8,165.2 L161.2,164.7 L161.6,164.3 L162.0,164.1 L162.4,164.0 L162.8,164.2 L163.2,164.7 L163.6,165.4 L164.0,166.6 L164.4,168.3 L164.8,170.4 L165.2,172.8 L165.6,175.2 L166.0,177.4 L166.4,179.2 L166.8,180.6 L167.2,181.6 L167.6,182.3 L168.0,182.6 L168.4,182.9 L168.8,183.0 L169.2,183.1 L169.6,183.1 L170.0,183.2 L170.4,183.2 L170.8,183.2 L171.2,183.2 L171.6,183.3 L172.0,183.3 L172.4,183.2 L172.8,183.2 L173.2,183.2 L173.6,183.1 L174.0,183.0 L174.4,182.9 L174.8,182.8 L175.2,182.6 L175.6,182.4 L176.0,182.1 L176.4,181.8 L176.8,181.5 L177.2,181.1 L177.6,180.7 L178.0,180.2 L178.4,179.8 L178.8,179.4 L179.2,178.9 L179.6,178.6 L180.0,178.4 L180.4,178.2 L180.8,178.2 L181.2,178.4 L181.6,178.6 L182.0,179.0 L182.4,179.4 L182.8,179.9 L183.2,180.3 L183.6,180.8 L184.0,181.2 L184.4,181.6 L184.8,182.0 L185.2,182.3 L185.6,182.6 L186.0,182.8 L186.4,183.0 L186.8,183.2 L187.2,183.3 L187.6,183.4 L188.0,183.5 L188.4,183.6 L188.8,183.6 L189.2,183.7 L189.6,183.7 L190.0,183.8 L190.4,183.8 L190.8,183.8 L191.2,183.8 L191.6,183.9 L192.0,183.9 L195.0,184.0 L198.0,184.0 L201.0,184.1 L204.0,184.1 L207.0,184.2 L210.0,184.2 L213.0,184.3 L216.0,184.4 L219.0,184.4 L222.0,184.5 L225.0,184.5 L228.0,184.5 L231.0,184.6 L234.0,184.6 L237.0,184.6 L240.0,184.7 L243.0,184.7 L246.0,184.7 L249.0,184.7 L252.0,184.8 L255.0,184.8 L258.0,184.8 L261.0,184.8 L261.0,184.8" fill="none" stroke="#87870f" stroke-width="1.5" stroke-linejoin="round"/>
<path d="M43.5,184.8 L46.5,184.8 L49.5,184.8 L52.5,184.8 L55.5,184.7 L58.5,184.7 L61.5,184.7 L64.5,184.7 L67.5,184.7 L70.5,184.6 L73.5,184.6 L76.5,184.6 L79.5,184.6 L82.5,184.5 L85.5,184.5 L88.5,184.4 L91.5,184.3 L94.5,184.3 L97.5,184.2 L100.0,184.1 L101.0,184.0 L102.0,184.0 L103.0,183.9 L104.0,183.8 L105.0,183.6 L106.0,183.4 L107.0,183.2 L108.0,183.0 L109.0,182.9 L110.0,182.9 L111.0,182.9 L112.0,183.1 L113.0,183.3 L114.0,183.4 L115.0,183.5 L116.0,183.6 L117.0,183.6 L118.0,183.5 L118.4,183.4 L118.8,183.2 L119.2,183.1 L119.6,182.8 L120.0,182.5 L120.4,182.1 L120.8,181.6 L121.2,181.0 L121.6,180.4 L122.0,179.7 L122.4,179.1 L122.8,178.4 L123.2,177.9 L123.6,177.5 L124.0,177.3 L124.4,177.2 L124.8,177.3 L125.2,177.5 L125.6,177.7 L126.0,178.0 L126.4,178.3 L126.8,178.5 L127.2,178.5 L127.6,178.3 L128.0,177.9 L128.4,177.3 L128.8,176.6 L129.2,175.7 L129.6,174.8 L130.0,173.9 L130.4,173.2 L130.8,172.7 L131.2,172.5 L131.6,172.7 L132.0,173.2 L132.4,173.9 L132.8,174.7 L133.2,175.4 L133.6,176.2 L134.0,176.8 L134.4,177.3 L134.8,177.7 L135.2,178.0 L135.6,178.1 L136.0,178.2 L136.4,178.2 L136.8,178.2 L137.2,178.1 L137.6,178.0 L138.0,177.9 L138.4,177.7 L138.8,177.5 L139.2,177.2 L139.6,176.9 L140.0,176.6 L140.4,176.1 L140.8,175.6 L141.2,175.0 L141.6,174.3 L142.0,173.6 L142.4,172.8 L142.8,172.2 L143.2,171.7 L143.6,171.5 L144.0,171.6 L144.4,172.0 L144.8,172.6 L145.2,173.3 L145.6,174.0 L146.0,174.7 L146.4,175.2 L146.8,175.7 L147.2,176.1 L147.6,176.4 L148.0,176.6 L148.4,176.8 L148.8,176.8 L149.2,176.8 L149.6,176.7 L150.0,176.5 L150.4,176.2 L150.8,175.8 L151.2,175.2 L151.6,174.5 L152.0,173.6 L152.4,172.5 L152.8,171.3 L153.2,170.0 L153.6,168.6 L154.0,167.2 L154.4,165.9 L154.8,164.8 L155.2,163.9 L155.6,163.4 L156.0,163.2 L156.4,163.5 L156.8,164.1 L157.2,165.1 L157.6,166.3 L158.0,167.6 L158.4,168.9 L158.8,170.0 L159.2,170.9 L159.6,171.5 L160.0,171.7 L160.4,171.7 L160.8,171.4 L161.2,171.1 L161.6,170.7 L162.0,170.4 L162.4,170.2 L162.8,170.1 L163.2,170.2 L163.6,170.5 L164.0,171.1 L164.4,172.2 L164.8,173.7 L165.2,175.4 L165.6,177.3 L166.0,179.0 L166.4,180.5 L166.8,181.6 L167.2,182.4 L167.6,182.9 L168.0,183.2 L168.4,183.3 L168.8,183.4 L169.2,183.5 L169.6,183.5 L170.0,183.6 L170.4,183.6 L170.8,183.6 L171.2,183.6 L171.6,183.6 L172.0,183.6 L172.4,183.6 L172.8,183.6 L173.2,183.6 L173.6,183.5 L174.0,183.5 L174.4,183.4 L174.8,183.3 L175.2,183.1 L175.6,183.0 L176.0,182.8 L176.4,182.6 L176.8,182.3 L177.2,182.0 L177.6,181.7 L178.0,181.3 L178.4,181.0 L178.8,180.7 L179.2,180.4 L179.6,180.1 L180.0,179.9 L180.4,179.8 L180.8,179.8 L181.2,179.9 L181.6,180.1 L182.0,180.4 L182.4,180.7 L182.8,181.1 L183.2,181.4 L183.6,181.8 L184.0,182.1 L184.4,182.4 L184.8,182.7 L185.2,182.9 L185.6,183.1 L186.0,183.3 L186.4,183.4 L186.8,183.6 L187.2,183.7 L187.6,183.8 L188.0,183.8 L188.4,183.9 L188.8,183.9 L189.2,184.0 L189.6,184.0 L190.0,184.0 L190.4,184.0 L190.8,184.0 L191.2,184.1 L191.6,184.1 L192.0,184.1 L195.0,184.2 L198.0,184.2 L201.0,184.2 L204.0,184.3 L207.0,184.3 L210.0,184.4 L213.0,184.4 L216.0,184.5 L219.0,184.5 L222.0,184.5 L225.0,184.6 L228.0,184.6 L231.0,184.6 L234.0,184.6 L237.0,184.7 L240.0,184.7 L243.0,184.7 L246.0,184.7 L249.0,184.7 L252.0,184.8 L255.0,184.8 L258.0,184.8 L261.0,184.8 L261.0,184.8" fill="none" stroke="#ff6a0a" stroke-width="1.5" stroke-linejoin="round"/>
<path d="M43.5,184.8 L46.5,184.8 L49.5,184.8 L52.5,184.8 L55.5,184.7 L58.5,184.7 L61.5,184.7 L64.5,184.7 L67.5,184.7 L70.5,184.7 L73.5,184.7 L76.5,184.6 L79.5,184.6 L82.5,184.6 L85.5,184.5 L88.5,184.5 L91.5,184.4 L94.5,184.4 L97.5,184.3 L100.0,184.2 L101.0,184.2 L102.0,184.1 L103.0,184.1 L104.0,184.0 L105.0,183.9 L106.0,183.7 L107.0,183.6 L108.0,183.4 L109.0,183.3 L110.0,183.3 L111.0,183.3 L112.0,183.5 L113.0,183.6 L114.0,183.7 L115.0,183.8 L116.0,183.9 L117.0,183.9 L118.0,183.8 L118.4,183.7 L118.8,183.6 L119.2,183.5 L119.6,183.3 L120.0,183.1 L120.4,182.8 L120.8,182.4 L121.2,182.0 L121.6,181.5 L122.0,181.0 L122.4,180.5 L122.8,180.1 L123.2,179.7 L123.6,179.4 L124.0,179.2 L124.4,179.2 L124.8,179.2 L125.2,179.4 L125.6,179.6 L126.0,179.8 L126.4,180.0 L126.8,180.2 L127.2,180.2 L127.6,180.1 L128.0,179.9 L128.4,179.5 L128.8,179.1 L129.2,178.5 L129.6,177.9 L130.0,177.3 L130.4,176.8 L130.8,176.4 L131.2,176.3 L131.6,176.5 L132.0,176.8 L132.4,177.2 L132.8,177.7 L133.2,178.2 L133.6,178.7 L134.0,179.1 L134.4,179.4 L134.8,179.7 L135.2,179.9 L135.6,180.0 L136.0,180.0 L136.4,180.0 L136.8,180.0 L137.2,179.9 L137.6,179.8 L138.0,179.7 L138.4,179.6 L138.8,179.5 L139.2,179.3 L139.6,179.1 L140.0,178.9 L140.4,178.6 L140.8,178.3 L141.2,177.9 L141.6,177.5 L142.0,177.1 L142.4,176.7 L142.8,176.3 L143.2,176.0 L143.6,175.9 L144.0,175.9 L144.4,176.2 L144.8,176.5 L145.2,176.9 L145.6,177.3 L146.0,177.7 L146.4,178.0 L146.8,178.3 L147.2,178.6 L147.6,178.7 L148.0,178.9 L148.4,179.0 L148.8,179.0 L149.2,179.0 L149.6,179.0 L150.0,178.8 L150.4,178.7 L150.8,178.4 L151.2,178.0 L151.6,177.6 L152.0,177.0 L152.4,176.3 L152.8,175.6 L153.2,174.8 L153.6,173.9 L154.0,173.0 L154.4,172.2 L154.8,171.5 L155.2,170.9 L155.6,170.6 L156.0,170.5 L156.4,170.7 L156.8,171.1 L157.2,171.8 L157.6,172.5 L158.0,173.4 L158.4,174.2 L158.8,175.0 L159.2,175.5 L159.6,175.9 L160.0,176.1 L160.4,176.1 L160.8,175.9 L161.2,175.7 L161.6,175.4 L162.0,175.0 L162.4,174.7 L162.8,174.5 L163.2,174.3 L163.6,174.3 L164.0,174.6 L164.4,175.3 L164.8,176.3 L165.2,177.6 L165.6,179.0 L166.0,180.3 L166.4,181.4 L166.8,182.3 L167.2,182.9 L167.6,183.3 L168.0,183.6 L168.4,183.7 L168.8,183.8 L169.2,183.8 L169.6,183.9 L170.0,183.9 L170.4,183.9 L170.8,183.9 L171.2,183.9 L171.6,183.9 L172.0,183.9 L172.4,183.9 L172.8,183.9 L173.2,183.9 L173.6,183.9 L174.0,183.8 L174.4,183.7 L174.8,183.7 L175.2,183.6 L175.6,183.4 L176.0,183.3 L176.4,183.1 L176.8,182.9 L177.2,182.7 L177.6,182.5 L178.0,182.2 L178.4,182.0 L178.8,181.7 L179.2,181.5 L179.6,181.3 L180.0,181.2 L180.4,181.1 L180.8,181.1 L181.2,181.2 L181.6,181.3 L182.0,181.5 L182.4,181.8 L182.8,182.0 L183.2,182.3 L183.6,182.5 L184.0,182.8 L184.4,183.0 L184.8,183.2 L185.2,183.4 L185.6,183.5 L186.0,183.7 L186.4,183.8 L186.8,183.9 L187.2,184.0 L187.6,184.0 L188.0,184.1 L188.4,184.1 L188.8,184.1 L189.2,184.2 L189.6,184.2 L190.0,184.2 L190.4,184.2 L190.8,184.2 L191.2,184.2 L191.6,184.3 L192.0,184.3 L195.0,184.3 L198.0,184.3 L201.0,184.4 L204.0,184.4 L207.0,184.4 L210.0,184.5 L213.0,184.5 L216.0,184.5 L219.0,184.6 L222.0,184.6 L225.0,184.6 L228.0,184.6 L231.0,184.7 L234.0,184.7 L237.0,184.7 L240.0,184.7 L243.0,184.7 L246.0,184.7 L249.0,184.7 L252.0,184.8 L255.0,184.8 L258.0,184.8 L261.0,184.8 L261.0,184.8" fill="none" stroke="#5c9dd6" stroke-width="1.5" stroke-linejoin="round"/>
<path d="M43.5,184.8 L46.5,184.8 L49.5,184.8 L52.5,184.8 L55.5,184.7 L58.5,184.7 L61.5,184.7 L64.5,184.7 L67.5,184.7 L70.5,184.7 L73.5,184.7 L76.5,184.7 L79.5,184.6 L82.5,184.6 L85.5,184.6 L88.5,184.6 L91.5,184.5 L94.5,184.5 L97.5,184.4 L100.0,184.4 L101.0,184.3 L102.0,184.3 L103.0,184.2 L104.0,184.1 L105.0,184.0 L106.0,183.9 L107.0,183.8 L108.0,183.7 L109.0,183.6 L110.0,183.6 L111.0,183.6 L112.0,183.7 L113.0,183.8 L114.0,183.9 L115.0,184.0 L116.0,184.1 L117.0,184.1 L118.0,184.0 L118.4,184.0 L118.8,183.9 L119.2,183.8 L119.6,183.7 L120.0,183.5 L120.4,183.3 L120.8,183.0 L121.2,182.7 L121.6,182.3 L122.0,182.0 L122.4,181.6 L122.8,181.3 L123.2,181.0 L123.6,180.7 L124.0,180.6 L124.4,180.6 L124.8,180.6 L125.2,180.7 L125.6,180.9 L126.0,181.1 L126.4,181.3 L126.8,181.4 L127.2,181.5 L127.6,181.4 L128.0,181.3 L128.4,181.0 L128.8,180.7 L129.2,180.3 L129.6,179.9 L130.0,179.5 L130.4,179.2 L130.8,179.0 L131.2,178.9 L131.6,179.0 L132.0,179.2 L132.4,179.4 L132.8,179.8 L133.2,180.1 L133.6,180.4 L134.0,180.7 L134.4,180.9 L134.8,181.1 L135.2,181.2 L135.6,181.2 L136.0,181.3 L136.4,181.2 L136.8,181.2 L137.2,181.2 L137.6,181.1 L138.0,181.0 L138.4,180.9 L138.8,180.9 L139.2,180.7 L139.6,180.6 L140.0,180.5 L140.4,180.3 L140.8,180.1 L141.2,179.9 L141.6,179.6 L142.0,179.4 L142.4,179.1 L142.8,178.9 L143.2,178.7 L143.6,178.6 L144.0,178.7 L144.4,178.8 L144.8,179.0 L145.2,179.3 L145.6,179.5 L146.0,179.7 L146.4,179.9 L146.8,180.1 L147.2,180.2 L147.6,180.4 L148.0,180.4 L148.4,180.5 L148.8,180.5 L149.2,180.5 L149.6,180.5 L150.0,180.4 L150.4,180.3 L150.8,180.2 L151.2,180.0 L151.6,179.7 L152.0,179.3 L152.4,178.9 L152.8,178.4 L153.2,177.9 L153.6,177.3 L154.0,176.8 L154.4,176.2 L154.8,175.8 L155.2,175.4 L155.6,175.2 L156.0,175.2 L156.4,175.3 L156.8,175.6 L157.2,176.0 L157.6,176.6 L158.0,177.1 L158.4,177.7 L158.8,178.2 L159.2,178.5 L159.6,178.8 L160.0,178.9 L160.4,178.9 L160.8,178.8 L161.2,178.6 L161.6,178.3 L162.0,178.0 L162.4,177.7 L162.8,177.4 L163.2,177.1 L163.6,177.0 L164.0,177.1 L164.4,177.5 L164.8,178.2 L165.2,179.2 L165.6,180.2 L166.0,181.3 L166.4,182.2 L166.8,182.9 L167.2,183.4 L167.6,183.7 L168.0,183.9 L168.4,184.0 L168.8,184.0 L169.2,184.1 L169.6,184.1 L170.0,184.1 L170.4,184.1 L170.8,184.1 L171.2,184.1 L171.6,184.1 L172.0,184.1 L172.4,184.1 L172.8,184.1 L173.2,184.1 L173.6,184.1 L174.0,184.0 L174.4,184.0 L174.8,183.9 L175.2,183.9 L175.6,183.8 L176.0,183.7 L176.4,183.5 L176.8,183.4 L177.2,183.2 L177.6,183.0 L178.0,182.9 L178.4,182.7 L178.8,182.5 L179.2,182.3 L179.6,182.2 L180.0,182.1 L180.4,182.0 L180.8,182.0 L181.2,182.1 L181.6,182.2 L182.0,182.3 L182.4,182.5 L182.8,182.7 L183.2,182.9 L183.6,183.1 L184.0,183.3 L184.4,183.4 L184.8,183.6 L185.2,183.7 L185.6,183.8 L186.0,183.9 L186.4,184.0 L186.8,184.1 L187.2,184.2 L187.6,184.2 L188.0,184.2 L188.4,184.3 L188.8,184.3 L189.2,184.3 L189.6,184.3 L190.0,184.3 L190.4,184.4 L190.8,184.4 L191.2,184.4 L191.6,184.4 L192.0,184.4 L195.0,184.4 L198.0,184.4 L201.0,184.5 L204.0,184.5 L207.0,184.5 L210.0,184.5 L213.0,184.6 L216.0,184.6 L219.0,184.6 L222.0,184.6 L225.0,184.6 L228.0,184.7 L231.0,184.7 L234.0,184.7 L237.0,184.7 L240.0,184.7 L243.0,184.7 L246.0,184.7 L249.0,184.7 L252.0,184.8 L255.0,184.8 L258.0,184.8 L261.0,184.8 L261.0,184.8" fill="none" stroke="#6ac21a" stroke-width="1.5" stroke-linejoin="round"/>
<path d="M43.5,184.8 L46.5,184.8 L49.5,184.8 L52.5,184.8 L55.5,184.7 L58.5,184.7 L61.5,184.7 L64.5,184.7 L67.5,184.7 L70.5,184.7 L73.5,184.7 L76.5,184.7 L79.5,184.7 L82.5,184.7 L85.5,184.6 L88.5,184.6 L91.5,184.6 L94.5,184.6 L97.5,184.5 L100.0,184.5 L101.0,184.5 L102.0,184.4 L103.0,184.4 L104.0,184.3 L105.0,184.3 L106.0,184.2 L107.0,184.1 L108.0,184.0 L109.0,183.9 L110.0,183.9 L111.0,184.0 L112.0,184.1 L113.0,184.1 L114.0,184.2 L115.0,184.3 L116.0,184.3 L117.0,184.3 L118.0,184.3 L118.4,184.3 L118.8,184.2 L119.2,184.2 L119.6,184.1 L120.0,184.0 L120.4,183.8 L120.8,183.7 L121.2,183.5 L121.6,183.2 L122.0,183.0 L122.4,182.8 L122.8,182.6 L123.2,182.4 L123.6,182.3 L124.0,182.2 L124.4,182.2 L124.8,182.2 L125.2,182.3 L125.6,182.4 L126.0,182.5 L126.4,182.6 L126.8,182.7 L127.2,182.8 L127.6,182.8 L128.0,182.7 L128.4,182.6 L128.8,182.5 L129.2,182.3 L129.6,182.0 L130.0,181.8 L130.4,181.7 L130.8,181.5 L131.2,181.5 L131.6,181.5 L132.0,181.6 L132.4,181.8 L132.8,181.9 L133.2,182.1 L133.6,182.2 L134.0,182.4 L134.4,182.5 L134.8,182.6 L135.2,182.6 L135.6,182.6 L136.0,182.6 L136.4,182.6 L136.8,182.6 L137.2,182.6 L137.6,182.5 L138.0,182.5 L138.4,182.4 L138.8,182.4 L139.2,182.3 L139.6,182.3 L140.0,182.2 L140.4,182.1 L140.8,182.0 L141.2,181.9 L141.6,181.8 L142.0,181.7 L142.4,181.6 L142.8,181.5 L143.2,181.4 L143.6,181.4 L144.0,181.4 L144.4,181.4 L144.8,181.5 L145.2,181.6 L145.6,181.7 L146.0,181.8 L146.4,181.9 L146.8,182.0 L147.2,182.0 L147.6,182.1 L148.0,182.1 L148.4,182.2 L148.8,182.2 L149.2,182.2 L149.6,182.2 L150.0,182.2 L150.4,182.1 L150.8,182.1 L151.2,182.0 L151.6,181.8 L152.0,181.7 L152.4,181.5 L152.8,181.2 L153.2,181.0 L153.6,180.7 L154.0,180.5 L154.4,180.2 L154.8,180.0 L155.2,179.9 L155.6,179.8 L156.0,179.8 L156.4,179.8 L156.8,180.0 L157.2,180.2 L157.6,180.5 L158.0,180.8 L158.4,181.0 L158.8,181.3 L159.2,181.5 L159.6,181.6 L160.0,181.7 L160.4,181.7 L160.8,181.6 L161.2,181.5 L161.6,181.3 L162.0,181.0 L162.4,180.7 L162.8,180.4 L163.2,180.1 L163.6,179.9 L164.0,179.8 L164.4,180.0 L164.8,180.4 L165.2,181.0 L165.6,181.7 L166.0,182.4 L166.4,183.0 L166.8,183.5 L167.2,183.9 L167.6,184.1 L168.0,184.2 L168.4,184.3 L168.8,184.3 L169.2,184.3 L169.6,184.4 L170.0,184.4 L170.4,184.4 L170.8,184.4 L171.2,184.4 L171.6,184.4 L172.0,184.4 L172.4,184.4 L172.8,184.4 L173.2,184.4 L173.6,184.3 L174.0,184.3 L174.4,184.3 L174.8,184.3 L175.2,184.2 L175.6,184.1 L176.0,184.1 L176.4,184.0 L176.8,183.9 L177.2,183.8 L177.6,183.7 L178.0,183.6 L178.4,183.5 L178.8,183.3 L179.2,183.2 L179.6,183.1 L180.0,183.1 L180.4,183.0 L180.8,183.0 L181.2,183.1 L181.6,183.2 L182.0,183.2 L182.4,183.4 L182.8,183.5 L183.2,183.6 L183.6,183.7 L184.0,183.8 L184.4,183.9 L184.8,184.0 L185.2,184.1 L185.6,184.2 L186.0,184.3 L186.4,184.3 L186.8,184.3 L187.2,184.4 L187.6,184.4 L188.0,184.4 L188.4,184.5 L188.8,184.5 L189.2,184.5 L189.6,184.5 L190.0,184.5 L190.4,184.5 L190.8,184.5 L191.2,184.5 L191.6,184.5 L192.0,184.5 L195.0,184.5 L198.0,184.6 L201.0,184.6 L204.0,184.6 L207.0,184.6 L210.0,184.6 L213.0,184.6 L216.0,184.6 L219.0,184.7 L222.0,184.7 L225.0,184.7 L228.0,184.7 L231.0,184.7 L234.0,184.7 L237.0,184.7 L240.0,184.7 L243.0,184.7 L246.0,184.7 L249.0,184.7 L252.0,184.8 L255.0,184.8 L258.0,184.8 L261.0,184.8 L261.0,184.8" fill="none" stroke="#4f4f4f" stroke-width="1.5" stroke-linejoin="round"/>
<line x1="60" y1="22.00" x2="82.7" y2="22.00" stroke="#4f4f4f" stroke-width="1.5"/>
<text x="85.3" y="25.30" style="font-family:'Liberation Serif',serif;font-weight:bold;font-size:10px;stroke-width:0.2px">303 K</text>
<line x1="60" y1="34.50" x2="82.7" y2="34.50" stroke="#f04646" stroke-width="1.5"/>
<text x="85.3" y="37.80" style="font-family:'Liberation Serif',serif;font-weight:bold;font-size:10px;stroke-width:0.2px">313 K</text>
<line x1="60" y1="47.00" x2="82.7" y2="47.00" stroke="#1f63d8" stroke-width="1.5"/>
<text x="85.3" y="50.30" style="font-family:'Liberation Serif',serif;font-weight:bold;font-size:10px;stroke-width:0.2px">323 K</text>
<line x1="60" y1="59.50" x2="82.7" y2="59.50" stroke="#35a572" stroke-width="1.5"/>
<text x="85.3" y="62.80" style="font-family:'Liberation Serif',serif;font-weight:bold;font-size:10px;stroke-width:0.2px">333 K</text>
<line x1="60" y1="72.00" x2="82.7" y2="72.00" stroke="#b274db" stroke-width="1.5"/>
<text x="85.3" y="75.30" style="font-family:'Liberation Serif',serif;font-weight:bold;font-size:10px;stroke-width:0.2px">343 K</text>
<line x1="60" y1="84.50" x2="82.7" y2="84.50" stroke="#d49b0c" stroke-width="1.5"/>
<text x="85.3" y="87.80" style="font-family:'Liberation Serif',serif;font-weight:bold;font-size:10px;stroke-width:0.2px">353 K</text>
<line x1="60" y1="97.00" x2="82.7" y2="97.00" stroke="#14cccc" stroke-width="1.5"/>
<text x="85.3" y="100.30" style="font-family:'Liberation Serif',serif;font-weight:bold;font-size:10px;stroke-width:0.2px">363 K</text>
<line x1="60" y1="109.50" x2="82.7" y2="109.50" stroke="#7d4a4a" stroke-width="1.5"/>
<text x="85.3" y="112.80" style="font-family:'Liberation Serif',serif;font-weight:bold;font-size:10px;stroke-width:0.2px">373 K</text>
<line x1="60" y1="122.00" x2="82.7" y2="122.00" stroke="#87870f" stroke-width="1.5"/>
<text x="85.3" y="125.30" style="font-family:'Liberation Serif',serif;font-weight:bold;font-size:10px;stroke-width:0.2px">383 K</text>
<line x1="60" y1="134.50" x2="82.7" y2="134.50" stroke="#ff6a0a" stroke-width="1.5"/>
<text x="85.3" y="137.80" style="font-family:'Liberation Serif',serif;font-weight:bold;font-size:10px;stroke-width:0.2px">393 K</text>
<line x1="60" y1="147.00" x2="82.7" y2="147.00" stroke="#5c9dd6" stroke-width="1.5"/>
<text x="85.3" y="150.30" style="font-family:'Liberation Serif',serif;font-weight:bold;font-size:10px;stroke-width:0.2px">403 K</text>
<line x1="60" y1="159.50" x2="82.7" y2="159.50" stroke="#6ac21a" stroke-width="1.5"/>
<text x="85.3" y="162.80" style="font-family:'Liberation Serif',serif;font-weight:bold;font-size:10px;stroke-width:0.2px">413 K</text>
<line x1="60" y1="172.00" x2="82.7" y2="172.00" stroke="#4f4f4f" stroke-width="1.5"/>
<text x="85.3" y="175.30" style="font-family:'Liberation Serif',serif;font-weight:bold;font-size:10px;stroke-width:0.2px">423 K</text>
<path d="M42.5,11.1 V187.9 H262.1 V11.1 Z" fill="none" stroke="#000" stroke-width="2"/>
<line x1="42.50" y1="187.9" x2="42.50" y2="191.3" stroke="#000" stroke-width="1.6"/>
<text x="42.50" y="203.7" text-anchor="middle" style="font-family:'Liberation Serif',serif;font-weight:bold;font-size:13px">550</text>
<line x1="115.70" y1="187.9" x2="115.70" y2="191.3" stroke="#000" stroke-width="1.6"/>
<text x="115.70" y="203.7" text-anchor="middle" style="font-family:'Liberation Serif',serif;font-weight:bold;font-size:13px">600</text>
<line x1="188.90" y1="187.9" x2="188.90" y2="191.3" stroke="#000" stroke-width="1.6"/>
<text x="188.90" y="203.7" text-anchor="middle" style="font-family:'Liberation Serif',serif;font-weight:bold;font-size:13px">650</text>
<line x1="262.10" y1="187.9" x2="262.10" y2="191.3" stroke="#000" stroke-width="1.6"/>
<text x="262.10" y="203.7" text-anchor="middle" style="font-family:'Liberation Serif',serif;font-weight:bold;font-size:13px">700</text>
<text x="152.3" y="225.3" text-anchor="middle" style="font-family:'Liberation Serif',serif;font-weight:bold;font-size:13.2px">Wavelength (nm)</text>
<text transform="translate(31.1,99.1) rotate(-90)" text-anchor="middle" style="font-family:'Liberation Serif',serif;font-weight:bold;font-size:13.1px">Intensity (a.u.)</text>
<text x="11.3" y="14.8" style="font-family:'Liberation Serif',serif;font-weight:bold;font-size:15px">(a)</text>
<text x="187.6" y="144.4" style="font-family:'Liberation Serif',serif;font-weight:bold;font-size:13px;font-style:italic">λ</text>
<text x="193.2" y="146.7" style="font-family:'Liberation Serif',serif;font-weight:bold;font-size:8.5px">ex</text>
<text x="203.7" y="143.9" style="font-family:'Liberation Serif',serif;font-weight:bold;font-size:10.5px">=</text>
<text x="210.9" y="144.4" style="font-family:'Liberation Serif',serif;font-weight:bold;font-size:13px">470</text>
<text x="233" y="144.4" style="font-family:'Liberation Serif',serif;font-weight:bold;font-size:13px">nm</text>
<rect x="325.00" y="27.00" width="13.5" height="160.20" fill="#4f4f4f"/>
<rect x="341.89" y="29.24" width="13.5" height="157.96" fill="#f04646"/>
<rect x="358.78" y="36.61" width="13.5" height="150.59" fill="#1f63d8"/>
<rect x="375.67" y="45.26" width="13.5" height="141.94" fill="#35a572"/>
<rect x="392.56" y="64.65" width="13.5" height="122.55" fill="#b274db"/>
<rect x="409.45" y="75.14" width="13.5" height="112.06" fill="#d49b0c"/>
<rect x="426.34" y="97.81" width="13.5" height="89.39" fill="#14cccc"/>
<rect x="443.23" y="114.31" width="13.5" height="72.89" fill="#7d4a4a"/>
<rect x="460.12" y="152.76" width="13.5" height="34.44" fill="#87870f"/>
<rect x="477.01" y="163.97" width="13.5" height="23.23" fill="#ff6a0a"/>
<rect x="493.90" y="171.98" width="13.5" height="15.22" fill="#5c9dd6"/>
<rect x="510.79" y="177.11" width="13.5" height="10.09" fill="#6ac21a"/>
<rect x="527.68" y="182.07" width="13.5" height="5.13" fill="#4f4f4f"/>
<path d="M323.3,11.1 V187.8 H542.6 V11.1 Z" fill="none" stroke="#000" stroke-width="2"/>
<line x1="317.2" y1="187.80" x2="323.3" y2="187.80" stroke="#000" stroke-width="1.6"/>
<text x="312.3" y="192.10" text-anchor="end" style="font-family:'Liberation Serif',serif;font-weight:bold;font-size:13px">0.0</text>
<line x1="320.2" y1="171.18" x2="323.3" y2="171.18" stroke="#000" stroke-width="1.6"/>
<line x1="317.2" y1="155.16" x2="323.3" y2="155.16" stroke="#000" stroke-width="1.6"/>
<text x="312.3" y="159.46" text-anchor="end" style="font-family:'Liberation Serif',serif;font-weight:bold;font-size:13px">0.2</text>
<line x1="320.2" y1="139.14" x2="323.3" y2="139.14" stroke="#000" stroke-width="1.6"/>
<line x1="317.2" y1="123.12" x2="323.3" y2="123.12" stroke="#000" stroke-width="1.6"/>
<text x="312.3" y="127.42" text-anchor="end" style="font-family:'Liberation Serif',serif;font-weight:bold;font-size:13px">0.4</text>
<line x1="320.2" y1="107.10" x2="323.3" y2="107.10" stroke="#000" stroke-width="1.6"/>
<line x1="317.2" y1="91.08" x2="323.3" y2="91.08" stroke="#000" stroke-width="1.6"/>
<text x="312.3" y="95.38" text-anchor="end" style="font-family:'Liberation Serif',serif;font-weight:bold;font-size:13px">0.6</text>
<line x1="320.2" y1="75.06" x2="323.3" y2="75.06" stroke="#000" stroke-width="1.6"/>
<line x1="317.2" y1="59.04" x2="323.3" y2="59.04" stroke="#000" stroke-width="1.6"/>
<text x="312.3" y="63.34" text-anchor="end" style="font-family:'Liberation Serif',serif;font-weight:bold;font-size:13px">0.8</text>
<line x1="320.2" y1="43.02" x2="323.3" y2="43.02" stroke="#000" stroke-width="1.6"/>
<line x1="317.2" y1="27.00" x2="323.3" y2="27.00" stroke="#000" stroke-width="1.6"/>
<text x="312.3" y="31.30" text-anchor="end" style="font-family:'Liberation Serif',serif;font-weight:bold;font-size:13px">1.0</text>
<line x1="320.2" y1="10.98" x2="323.3" y2="10.98" stroke="#000" stroke-width="1.6"/>
<line x1="331.75" y1="187.8" x2="331.75" y2="190.9" stroke="#000" stroke-width="1.6"/>
<line x1="348.64" y1="187.8" x2="348.64" y2="190.9" stroke="#000" stroke-width="1.6"/>
<text x="348.64" y="202.1" text-anchor="middle" style="font-family:'Liberation Serif',serif;font-weight:bold;font-size:13px">313</text>
<line x1="365.53" y1="187.8" x2="365.53" y2="190.9" stroke="#000" stroke-width="1.6"/>
<line x1="382.42" y1="187.8" x2="382.42" y2="190.9" stroke="#000" stroke-width="1.6"/>
<text x="382.42" y="202.1" text-anchor="middle" style="font-family:'Liberation Serif',serif;font-weight:bold;font-size:13px">333</text>
<line x1="399.31" y1="187.8" x2="399.31" y2="190.9" stroke="#000" stroke-width="1.6"/>
<line x1="416.20" y1="187.8" x2="416.20" y2="190.9" stroke="#000" stroke-width="1.6"/>
<text x="416.20" y="202.1" text-anchor="middle" style="font-family:'Liberation Serif',serif;font-weight:bold;font-size:13px">353</text>
<line x1="433.09" y1="187.8" x2="433.09" y2="190.9" stroke="#000" stroke-width="1.6"/>
<line x1="449.98" y1="187.8" x2="449.98" y2="190.9" stroke="#000" stroke-width="1.6"/>
<text x="449.98" y="202.1" text-anchor="middle" style="font-family:'Liberation Serif',serif;font-weight:bold;font-size:13px">373</text>
<line x1="466.87" y1="187.8" x2="466.87" y2="190.9" stroke="#000" stroke-width="1.6"/>
<line x1="483.76" y1="187.8" x2="483.76" y2="190.9" stroke="#000" stroke-width="1.6"/>
<text x="483.76" y="202.1" text-anchor="middle" style="font-family:'Liberation Serif',serif;font-weight:bold;font-size:13px">393</text>
<line x1="500.65" y1="187.8" x2="500.65" y2="190.9" stroke="#000" stroke-width="1.6"/>
<line x1="517.54" y1="187.8" x2="517.54" y2="190.9" stroke="#000" stroke-width="1.6"/>
<text x="517.54" y="202.1" text-anchor="middle" style="font-family:'Liberation Serif',serif;font-weight:bold;font-size:13px">413</text>
<line x1="534.43" y1="187.8" x2="534.43" y2="190.9" stroke="#000" stroke-width="1.6"/>
<text x="433" y="218.4" text-anchor="middle" style="font-family:'Liberation Serif',serif;font-weight:bold;font-size:13.2px">Temperature (K)</text>
<text transform="translate(288.7,99) rotate(-90)" text-anchor="middle" style="font-family:'Liberation Serif',serif;font-weight:bold;font-size:13.25px">Normalized intensity (a.u.)</text>
<text x="292.4" y="14.7" style="font-family:'Liberation Serif',serif;font-weight:bold;font-size:15px">(b)</text>
<text x="409.3" y="70.9" style="font-family:'Liberation Serif',serif;font-weight:bold;font-size:13px">69.95%</text>
<defs><radialGradient id="ball" cx="0.38" cy="0.36" r="0.62" fx="0.32" fy="0.3"><stop offset="0" stop-color="#ffffff"/><stop offset="0.14" stop-color="#fff0dc"/><stop offset="0.36" stop-color="#ff9a2e"/><stop offset="0.7" stop-color="#ff8000"/><stop offset="1" stop-color="#f27200"/></radialGradient></defs>
<circle cx="68.3" cy="253.3" r="5.7" fill="url(#ball)"/>
<circle cx="80.5" cy="266.3" r="5.7" fill="url(#ball)"/>
<circle cx="93.1" cy="275.1" r="5.7" fill="url(#ball)"/>
<circle cx="106.7" cy="284.2" r="5.7" fill="url(#ball)"/>
<circle cx="120.7" cy="294" r="5.7" fill="url(#ball)"/>
<circle cx="135.4" cy="315.6" r="5.7" fill="url(#ball)"/>
<circle cx="151.4" cy="324" r="5.7" fill="url(#ball)"/>
<circle cx="168" cy="335.6" r="5.7" fill="url(#ball)"/>
<circle cx="185" cy="341.9" r="5.7" fill="url(#ball)"/>
<circle cx="204" cy="358.7" r="5.7" fill="url(#ball)"/>
<circle cx="223.6" cy="373.4" r="5.7" fill="url(#ball)"/>
<circle cx="244.7" cy="402.5" r="5.7" fill="url(#ball)"/>
<line x1="67.8" y1="254.6" x2="245" y2="395.3" stroke="#ff0000" stroke-width="2"/>
<path d="M42.45,240.3 V417.1 H261.7 V240.3 Z" fill="none" stroke="#000" stroke-width="2"/>
<line x1="42.45" y1="417" x2="42.45" y2="421" stroke="#000" stroke-width="1.6"/>
<text x="42.45" y="433.3" text-anchor="middle" style="font-family:'Liberation Serif',serif;font-weight:bold;font-size:13px">26</text>
<line x1="60.72" y1="417" x2="60.72" y2="419.2" stroke="#000" stroke-width="1.4"/>
<line x1="78.99" y1="417" x2="78.99" y2="421" stroke="#000" stroke-width="1.6"/>
<text x="78.99" y="433.3" text-anchor="middle" style="font-family:'Liberation Serif',serif;font-weight:bold;font-size:13px">28</text>
<line x1="97.26" y1="417" x2="97.26" y2="419.2" stroke="#000" stroke-width="1.4"/>
<line x1="115.53" y1="417" x2="115.53" y2="421" stroke="#000" stroke-width="1.6"/>
<text x="115.53" y="433.3" text-anchor="middle" style="font-family:'Liberation Serif',serif;font-weight:bold;font-size:13px">30</text>
<line x1="133.80" y1="417" x2="133.80" y2="419.2" stroke="#000" stroke-width="1.4"/>
<line x1="152.07" y1="417" x2="152.07" y2="421" stroke="#000" stroke-width="1.6"/>
<text x="152.07" y="433.3" text-anchor="middle" style="font-family:'Liberation Serif',serif;font-weight:bold;font-size:13px">32</text>
<line x1="170.34" y1="417" x2="170.34" y2="419.2" stroke="#000" stroke-width="1.4"/>
<line x1="188.61" y1="417" x2="188.61" y2="421" stroke="#000" stroke-width="1.6"/>
<text x="188.61" y="433.3" text-anchor="middle" style="font-family:'Liberation Serif',serif;font-weight:bold;font-size:13px">34</text>
<line x1="206.88" y1="417" x2="206.88" y2="419.2" stroke="#000" stroke-width="1.4"/>
<line x1="225.15" y1="417" x2="225.15" y2="421" stroke="#000" stroke-width="1.6"/>
<text x="225.15" y="433.3" text-anchor="middle" style="font-family:'Liberation Serif',serif;font-weight:bold;font-size:13px">36</text>
<line x1="243.42" y1="417" x2="243.42" y2="419.2" stroke="#000" stroke-width="1.4"/>
<line x1="261.69" y1="417" x2="261.69" y2="421" stroke="#000" stroke-width="1.6"/>
<text x="261.69" y="433.3" text-anchor="middle" style="font-family:'Liberation Serif',serif;font-weight:bold;font-size:13px">38</text>
<line x1="38.7" y1="417.35" x2="42.45" y2="417.35" stroke="#000" stroke-width="1.6"/>
<text x="36.6" y="421.15" text-anchor="end" style="font-family:'Liberation Serif',serif;font-weight:bold;font-size:13px">−5</text>
<line x1="40.5" y1="407.52" x2="42.45" y2="407.52" stroke="#000" stroke-width="1.4"/>
<line x1="38.7" y1="397.70" x2="42.45" y2="397.70" stroke="#000" stroke-width="1.6"/>
<text x="36.6" y="401.50" text-anchor="end" style="font-family:'Liberation Serif',serif;font-weight:bold;font-size:13px">−4</text>
<line x1="40.5" y1="387.88" x2="42.45" y2="387.88" stroke="#000" stroke-width="1.4"/>
<line x1="38.7" y1="378.05" x2="42.45" y2="378.05" stroke="#000" stroke-width="1.6"/>
<text x="36.6" y="381.85" text-anchor="end" style="font-family:'Liberation Serif',serif;font-weight:bold;font-size:13px">−3</text>
<line x1="40.5" y1="368.23" x2="42.45" y2="368.23" stroke="#000" stroke-width="1.4"/>
<line x1="38.7" y1="358.40" x2="42.45" y2="358.40" stroke="#000" stroke-width="1.6"/>
<text x="36.6" y="362.20" text-anchor="end" style="font-family:'Liberation Serif',serif;font-weight:bold;font-size:13px">−2</text>
<line x1="40.5" y1="348.57" x2="42.45" y2="348.57" stroke="#000" stroke-width="1.4"/>
<line x1="38.7" y1="338.75" x2="42.45" y2="338.75" stroke="#000" stroke-width="1.6"/>
<text x="36.6" y="342.55" text-anchor="end" style="font-family:'Liberation Serif',serif;font-weight:bold;font-size:13px">−1</text>
<line x1="40.5" y1="328.93" x2="42.45" y2="328.93" stroke="#000" stroke-width="1.4"/>
<line x1="38.7" y1="319.10" x2="42.45" y2="319.10" stroke="#000" stroke-width="1.6"/>
<text x="36.6" y="322.90" text-anchor="end" style="font-family:'Liberation Serif',serif;font-weight:bold;font-size:13px">0</text>
<line x1="40.5" y1="309.27" x2="42.45" y2="309.27" stroke="#000" stroke-width="1.4"/>
<line x1="38.7" y1="299.45" x2="42.45" y2="299.45" stroke="#000" stroke-width="1.6"/>
<text x="36.6" y="303.25" text-anchor="end" style="font-family:'Liberation Serif',serif;font-weight:bold;font-size:13px">1</text>
<line x1="40.5" y1="289.62" x2="42.45" y2="289.62" stroke="#000" stroke-width="1.4"/>
<line x1="38.7" y1="279.80" x2="42.45" y2="279.80" stroke="#000" stroke-width="1.6"/>
<text x="36.6" y="283.60" text-anchor="end" style="font-family:'Liberation Serif',serif;font-weight:bold;font-size:13px">2</text>
<line x1="40.5" y1="269.98" x2="42.45" y2="269.98" stroke="#000" stroke-width="1.4"/>
<line x1="38.7" y1="260.15" x2="42.45" y2="260.15" stroke="#000" stroke-width="1.6"/>
<text x="36.6" y="263.95" text-anchor="end" style="font-family:'Liberation Serif',serif;font-weight:bold;font-size:13px">3</text>
<line x1="40.5" y1="250.32" x2="42.45" y2="250.32" stroke="#000" stroke-width="1.4"/>
<line x1="38.7" y1="240.50" x2="42.45" y2="240.50" stroke="#000" stroke-width="1.6"/>
<text x="36.6" y="244.30" text-anchor="end" style="font-family:'Liberation Serif',serif;font-weight:bold;font-size:13px">4</text>
<text x="152.2" y="453.8" text-anchor="middle" style="font-family:'Liberation Serif',serif;font-weight:bold;font-size:13px">1/KT</text>
<text transform="translate(15.3,328) rotate(-90)" text-anchor="middle" style="font-family:'Liberation Serif',serif;font-weight:bold;font-size:13px">ln (I/I<tspan font-size="8.5px" dy="2.5">0</tspan><tspan dy="-2.5">)</tspan></text>
<text x="11.2" y="249.1" style="font-family:'Liberation Serif',serif;font-weight:bold;font-size:15px">(c)</text>
<line x1="149.8" y1="257.4" x2="181" y2="257.4" stroke="#ff0000" stroke-width="2"/>
<text x="184.6" y="261.4" style="font-family:'Liberation Serif',serif;font-weight:bold;font-size:13px">Fitting line</text>
<text x="154.8" y="316" style="font-family:'Liberation Serif',serif;font-weight:bold;font-size:13px">ΔE = 0.74 eV</text>
<path d="M328.20,363.25 L329.96,367.80 L331.71,372.15 L333.47,376.29 L335.22,380.23 L336.98,383.96 L338.74,387.48 L340.49,390.80 L342.25,393.92 L344.00,396.82 L345.76,399.53 L347.52,402.03 L349.27,404.32 L351.03,406.41 L352.78,408.29 L354.54,409.97 L356.29,411.44 L358.05,412.70 L359.81,413.76 L361.56,414.62 L363.32,415.27 L365.07,415.72 L366.83,415.95 L368.59,415.99 L370.34,415.82 L372.10,415.44 L373.85,414.86 L375.61,414.07 L377.37,413.08 L379.12,411.88 L380.88,410.48 L382.63,408.87 L384.39,407.05 L386.15,405.04 L387.90,402.81 L389.66,400.38 L391.41,397.75 L393.17,394.90 L394.93,391.86 L396.68,388.61 L398.44,385.15 L400.19,381.49 L401.95,377.62 L403.71,373.55 L405.46,369.27 L407.22,364.79 L408.97,360.10 L410.73,355.20 L412.48,350.10 L414.24,344.80 L416.00,339.29 L417.75,333.57 L419.51,327.65 L421.26,321.52 L423.02,315.19 L424.78,308.66 L426.53,301.91 L428.29,294.97 L430.04,287.81 L431.80,280.45" fill="none" stroke="#6b6b6b" stroke-width="1.1"/>
<path d="M336.10,317.58 L337.24,320.08 L338.37,322.48 L339.51,324.79 L340.65,327.02 L341.79,329.15 L342.92,331.19 L344.06,333.14 L345.20,335.00 L346.34,336.77 L347.47,338.45 L348.61,340.04 L349.75,341.54 L350.88,342.95 L352.02,344.26 L353.16,345.49 L354.30,346.63 L355.43,347.67 L356.57,348.63 L357.71,349.49 L358.85,350.27 L359.98,350.95 L361.12,351.54 L362.26,352.05 L363.39,352.46 L364.53,352.78 L365.67,353.01 L366.81,353.15 L367.94,353.20 L369.08,353.16 L370.22,353.03 L371.36,352.81 L372.49,352.49 L373.63,352.09 L374.77,351.60 L375.91,351.01 L377.04,350.34 L378.18,349.57 L379.32,348.72 L380.45,347.77 L381.59,346.73 L382.73,345.61 L383.87,344.39 L385.00,343.08 L386.14,341.68 L387.28,340.19 L388.42,338.61 L389.55,336.94 L390.69,335.18 L391.83,333.33 L392.96,331.39 L394.10,329.35 L395.24,327.23 L396.38,325.02 L397.51,322.71 L398.65,320.32 L399.79,317.83 L400.93,315.26 L402.06,312.59 L403.20,309.83" fill="none" stroke="#9dc97e" stroke-width="1.2"/>
<path d="M338.90,309.03 L339.90,310.96 L340.90,312.82 L341.89,314.61 L342.89,316.34 L343.89,318.00 L344.89,319.60 L345.89,321.12 L346.89,322.58 L347.88,323.98 L348.88,325.31 L349.88,326.57 L350.88,327.76 L351.88,328.89 L352.88,329.95 L353.87,330.95 L354.87,331.88 L355.87,332.74 L356.87,333.54 L357.87,334.27 L358.87,334.93 L359.86,335.52 L360.86,336.05 L361.86,336.52 L362.86,336.91 L363.86,337.24 L364.86,337.50 L365.85,337.70 L366.85,337.83 L367.85,337.89 L368.85,337.89 L369.85,337.82 L370.85,337.68 L371.84,337.48 L372.84,337.21 L373.84,336.87 L374.84,336.47 L375.84,336.00 L376.84,335.47 L377.83,334.86 L378.83,334.20 L379.83,333.46 L380.83,332.66 L381.83,331.79 L382.83,330.85 L383.82,329.85 L384.82,328.78 L385.82,327.65 L386.82,326.45 L387.82,325.18 L388.82,323.84 L389.81,322.44 L390.81,320.97 L391.81,319.44 L392.81,317.84 L393.81,316.17 L394.81,314.44 L395.80,312.64 L396.80,310.77 L397.80,308.83" fill="none" stroke="#4a8fd8" stroke-width="1.3"/>
<path d="M352.00,312.22 L353.63,313.28 L355.25,314.29 L356.88,315.23 L358.51,316.12 L360.14,316.95 L361.76,317.71 L363.39,318.42 L365.02,319.07 L366.64,319.66 L368.27,320.19 L369.90,320.66 L371.53,321.07 L373.15,321.42 L374.78,321.72 L376.41,321.95 L378.03,322.12 L379.66,322.24 L381.29,322.29 L382.92,322.29 L384.54,322.23 L386.17,322.11 L387.80,321.92 L389.42,321.68 L391.05,321.38 L392.68,321.02 L394.31,320.60 L395.93,320.13 L397.56,319.59 L399.19,318.99 L400.81,318.34 L402.44,317.62 L404.07,316.85 L405.69,316.01 L407.32,315.12 L408.95,314.17 L410.58,313.15 L412.20,312.08 L413.83,310.95 L415.46,309.76 L417.08,308.51 L418.71,307.21 L420.34,305.84 L421.97,304.41 L423.59,302.92 L425.22,301.38 L426.85,299.77 L428.47,298.11 L430.10,296.39 L431.73,294.60 L433.36,292.76 L434.98,290.86 L436.61,288.90 L438.24,286.88 L439.86,284.80 L441.49,282.66 L443.12,280.46 L444.75,278.21 L446.37,275.89 L448.00,273.51" fill="none" stroke="#8eaee6" stroke-width="1.1"/>
<path d="M344.10,265.10 L344.92,266.84 L345.75,268.52 L346.57,270.14 L347.39,271.69 L348.22,273.19 L349.04,274.63 L349.87,276.00 L350.69,277.32 L351.51,278.57 L352.34,279.76 L353.16,280.89 L353.98,281.96 L354.81,282.97 L355.63,283.92 L356.46,284.80 L357.28,285.63 L358.10,286.39 L358.93,287.10 L359.75,287.74 L360.57,288.32 L361.40,288.84 L362.22,289.30 L363.05,289.70 L363.87,290.03 L364.69,290.31 L365.52,290.52 L366.34,290.68 L367.16,290.77 L367.99,290.80 L368.81,290.77 L369.64,290.68 L370.46,290.53 L371.28,290.31 L372.11,290.04 L372.93,289.71 L373.75,289.31 L374.58,288.85 L375.40,288.33 L376.23,287.76 L377.05,287.12 L377.87,286.41 L378.70,285.65 L379.52,284.83 L380.34,283.94 L381.17,283.00 L381.99,281.99 L382.82,280.92 L383.64,279.79 L384.46,278.60 L385.29,277.35 L386.11,276.04 L386.93,274.67 L387.76,273.23 L388.58,271.74 L389.41,270.18 L390.23,268.56 L391.05,266.89 L391.88,265.15 L392.70,263.35" fill="none" stroke="#ef8a46" stroke-width="1.3"/>
<path d="M360.00,272.70 L360.83,273.48 L361.65,274.23 L362.48,274.95 L363.30,275.64 L364.13,276.30 L364.95,276.93 L365.78,277.53 L366.60,278.10 L367.43,278.64 L368.25,279.14 L369.08,279.62 L369.91,280.07 L370.73,280.49 L371.56,280.88 L372.38,281.24 L373.21,281.57 L374.03,281.87 L374.86,282.13 L375.68,282.37 L376.51,282.58 L377.33,282.76 L378.16,282.91 L378.98,283.02 L379.81,283.11 L380.64,283.17 L381.46,283.20 L382.29,283.19 L383.11,283.16 L383.94,283.10 L384.76,283.01 L385.59,282.88 L386.41,282.73 L387.24,282.55 L388.06,282.33 L388.89,282.09 L389.72,281.82 L390.54,281.51 L391.37,281.18 L392.19,280.81 L393.02,280.42 L393.84,280.00 L394.67,279.54 L395.49,279.06 L396.32,278.54 L397.14,278.00 L397.97,277.42 L398.79,276.82 L399.62,276.18 L400.45,275.52 L401.27,274.82 L402.10,274.10 L402.92,273.34 L403.75,272.55 L404.57,271.74 L405.40,270.89 L406.22,270.02 L407.05,269.11 L407.87,268.17 L408.70,267.21" fill="none" stroke="#4a78d0" stroke-width="1.3"/>
<line x1="364.9" y1="416" x2="364.9" y2="283" stroke="#d9874a" stroke-width="2.2"/>
<path d="M364.9,277.6 L367.2,284 L362.6,284 Z" fill="#d9874a"/>
<line x1="371.6" y1="416" x2="371.6" y2="326" stroke="#7030a0" stroke-width="1.8"/>
<path d="M371.6,321.2 L373.8,326.8 L369.4,326.8 Z" fill="#7030a0"/>
<line x1="377.4" y1="351.5" x2="377.4" y2="410" stroke="#ff0000" stroke-width="1.4"/>
<path d="M377.4,415 L379.4,409.2 L375.4,409.2 Z" fill="#ff0000"/>
<path d="M380.2,322.2 H497.6" stroke="#ff1a1a" stroke-width="1.35" fill="none" stroke-dasharray="8.3 4.4 1.3 4.8" stroke-dashoffset="2.7"/>
<path d="M428,298.6 H497.6" stroke="#ff1a1a" stroke-width="1.35" fill="none" stroke-dasharray="7 3.3 1 2.3 1 3.3"/>
<path d="M380.2,321.2 L380.4,314 C381,306 388,300 398,296.6 C406,295 418,295.6 424,297.8" stroke="#ff1a1a" stroke-width="1.35" fill="none" stroke-dasharray="6.5 3 1.3 3 1.3 3"/>
<path d="M428.3,298.8 L423.2,295.4 L422.6,299.8 Z" fill="#ff1a1a"/>
<path d="M428.6,299 C429.2,312 427.2,332 421.6,349.5 C418.5,364 414.5,380 410.5,391.5 C407,401 401,406.5 393,410.6 C386,413 378,415.5 373,416" stroke="#ff1a1a" stroke-width="1.3" fill="none" stroke-dasharray="5 2.6 1.3 2.6"/>
<path d="M468.2,302 V319" stroke="#ff1a1a" stroke-width="1.35" fill="none" stroke-dasharray="7.5 3 1.3 3"/>
<path d="M468.2,298.8 L470,303.5 L466.4,303.5 Z" fill="#ff1a1a"/>
<path d="M468.2,322.1 L470,317.4 L466.4,317.4 Z" fill="#ff1a1a"/>
<path d="M323.5,240.85 V416.7 H543 V240.85 Z" fill="none" stroke="#000" stroke-width="2"/>
<text x="332.9" y="275.60" style="font-family:'Liberation Serif',serif;font-weight:bold;font-size:4.8px">2</text>
<text x="334.6" y="279.2" style="font-family:'Liberation Serif',serif;font-weight:bold;font-size:8.8px">T</text>
<text x="341.6" y="281.20" style="font-family:'Liberation Serif',serif;font-weight:bold;font-size:6.2px">2g</text>
<text x="407.9" y="265.80" style="font-family:'Liberation Serif',serif;font-weight:bold;font-size:4.8px">4</text>
<text x="409.7" y="269.4" style="font-family:'Liberation Serif',serif;font-weight:bold;font-size:8.8px">T</text>
<text x="416.2" y="271.40" style="font-family:'Liberation Serif',serif;font-weight:bold;font-size:6.2px">1g</text>
<text x="445.7" y="270.20" style="font-family:'Liberation Serif',serif;font-weight:bold;font-size:4.8px">4</text>
<text x="447.8" y="273.8" style="font-family:'Liberation Serif',serif;font-weight:bold;font-size:8.8px">T</text>
<text x="454.4" y="275.80" style="font-family:'Liberation Serif',serif;font-weight:bold;font-size:6.2px">2g</text>
<text x="333.9" y="305.10" style="font-family:'Liberation Serif',serif;font-weight:bold;font-size:4.8px">2</text>
<text x="335.9" y="308.7" style="font-family:'Liberation Serif',serif;font-weight:bold;font-size:8.8px">T</text>
<text x="342.8" y="310.70" style="font-family:'Liberation Serif',serif;font-weight:bold;font-size:6.2px">1g</text>
<text x="332.3" y="339.00" style="font-family:'Liberation Serif',serif;font-weight:bold;font-size:4.8px">2</text>
<text x="334.6" y="342.6" style="font-family:'Liberation Serif',serif;font-weight:bold;font-size:8.8px">E</text>
<text x="340.9" y="344.60" style="font-family:'Liberation Serif',serif;font-weight:bold;font-size:6.2px">g</text>
<text x="332.3" y="406.00" style="font-family:'Liberation Serif',serif;font-weight:bold;font-size:4.8px">4</text>
<text x="335.0" y="409.6" style="font-family:'Liberation Serif',serif;font-weight:bold;font-size:8.8px">A</text>
<text x="341.6" y="411.60" style="font-family:'Liberation Serif',serif;font-weight:bold;font-size:6.2px">2g</text>
<text x="401.6" y="295.4" style="font-family:'Liberation Serif',serif;font-weight:bold;font-size:9px">II</text>
<text x="401" y="369.2" style="font-family:'Liberation Serif',serif;font-weight:bold;font-size:9px">I</text>
<text x="470.3" y="314.8" style="font-family:'Liberation Serif',serif;font-weight:bold;font-size:9.5px">E<tspan font-size="6.5px" dy="1.5">a</tspan></text>
<text transform="translate(359.7,382.8) rotate(-90)" text-anchor="middle" style="font-family:'Liberation Serif',serif;font-weight:bold;font-size:7.1px">Excitation light</text>
<text transform="translate(311.6,328.55) rotate(-90)" text-anchor="middle" style="font-family:'Liberation Serif',serif;font-weight:bold;font-size:13px">Energy</text>
<text x="433" y="434" text-anchor="middle" style="font-family:'Liberation Serif',serif;font-weight:bold;font-size:13.2px">Internuclear separation</text>
<text x="271.8" y="248.9" style="font-family:'Liberation Serif',serif;font-weight:bold;font-size:15px">(d)</text></svg>
</body></html>
